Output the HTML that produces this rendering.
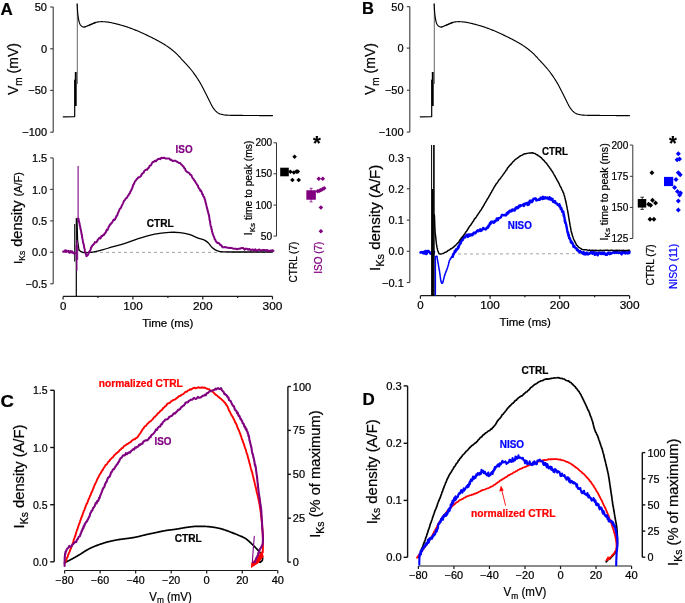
<!DOCTYPE html>
<html><head><meta charset="utf-8"><title>IKs figure</title>
<style>html,body{margin:0;padding:0;background:#fff;}svg{display:block;}text{font-family:'Liberation Sans', Arial, sans-serif;stroke:#000;stroke-width:0.22px;}</style>
</head><body>
<svg width="685" height="603" viewBox="0 0 685 603">
<rect width="685" height="603" fill="#fff"/>
<text x="0.5" y="14.9" font-size="17" font-weight="bold" >A</text>
<text x="362" y="13.6" font-size="16.5" font-weight="bold" >B</text>
<line x1="53.2" y1="7" x2="53.2" y2="132.2" stroke="#3a3a3a" stroke-width="1.1" />
<line x1="50.2" y1="7" x2="53.2" y2="7" stroke="#3a3a3a" stroke-width="1.1" />
<text x="47" y="10.9" font-size="11" text-anchor="end" >50</text>
<line x1="50.2" y1="48.8" x2="53.2" y2="48.8" stroke="#3a3a3a" stroke-width="1.1" />
<text x="47" y="52.7" font-size="11" text-anchor="end" >0</text>
<line x1="50.2" y1="90.4" x2="53.2" y2="90.4" stroke="#3a3a3a" stroke-width="1.1" />
<text x="47" y="94.3" font-size="11" text-anchor="end" >&#8722;50</text>
<line x1="50.2" y1="132.2" x2="53.2" y2="132.2" stroke="#3a3a3a" stroke-width="1.1" />
<text x="47" y="136.1" font-size="11" text-anchor="end" >&#8722;100</text>
<line x1="409.8" y1="6.7" x2="409.8" y2="132.1" stroke="#3a3a3a" stroke-width="1.1" />
<line x1="406.8" y1="6.7" x2="409.8" y2="6.7" stroke="#3a3a3a" stroke-width="1.1" />
<text x="403.6" y="10.6" font-size="11" text-anchor="end" >50</text>
<line x1="406.8" y1="48.1" x2="409.8" y2="48.1" stroke="#3a3a3a" stroke-width="1.1" />
<text x="403.6" y="52" font-size="11" text-anchor="end" >0</text>
<line x1="406.8" y1="90.2" x2="409.8" y2="90.2" stroke="#3a3a3a" stroke-width="1.1" />
<text x="403.6" y="94.1" font-size="11" text-anchor="end" >&#8722;50</text>
<line x1="406.8" y1="132.1" x2="409.8" y2="132.1" stroke="#3a3a3a" stroke-width="1.1" />
<text x="403.6" y="136" font-size="11" text-anchor="end" >&#8722;100</text>
<path d="M63.3 116.9L74.7 116.6 74.7 80" fill="none" stroke="#000" stroke-width="1.2" stroke-linejoin="round" stroke-linecap="round" />
<rect x="74.8" y="72" width="1.9" height="34" fill="#000"/>
<line x1="77.3" y1="4" x2="77.3" y2="84" stroke="#555" stroke-width="0.9" />
<path d="M77.1 3.8C77.23 5.65 77.52 11.72 77.9 14.9C78.28 18.08 78.8 21.02 79.4 22.9C80 24.78 80.75 25.5 81.5 26.2C82.25 26.9 83.07 27.08 83.9 27.1C84.73 27.12 85.5 26.67 86.5 26.3C87.5 25.93 88.35 25.55 89.9 24.9C91.45 24.25 94.82 22.82 95.8 22.4" fill="none" stroke="#000" stroke-width="1.15" stroke-linejoin="round" stroke-linecap="round" />
<path d="M89.9 24.9L90.64 24.57 91.29 24.28 91.95 23.98 92.62 23.69 93.27 23.42 93.93 23.15 94.57 22.9 95.21 22.67 95.83 22.46 96.44 22.28 97.05 22.13 97.64 22.01 98.23 21.91 98.82 21.83 99.4 21.77 99.99 21.73 100.58 21.7 101.17 21.68 101.78 21.67 102.39 21.68 103.01 21.7 103.63 21.72 104.25 21.76 104.86 21.8 105.44 21.85 106.02 21.91 106.58 21.97 107.14 22.03 107.71 22.11 108.3 22.19 108.93 22.29 109.58 22.41 110.27 22.53 110.97 22.67 111.68 22.81 112.37 22.96 113.04 23.11 113.67 23.25 114.28 23.39 114.87 23.53 115.46 23.67 116.05 23.82 116.65 23.96 117.26 24.12 117.87 24.27 118.49 24.43 119.11 24.6 119.74 24.76 120.36 24.93 120.97 25.1 121.58 25.28 122.19 25.45 122.79 25.63 123.38 25.8 123.97 25.98 124.56 26.17 125.14 26.35 125.72 26.54 126.3 26.73 126.88 26.92 127.46 27.12 128.04 27.32 128.62 27.52 129.2 27.72 129.78 27.93 130.36 28.14 130.94 28.35 131.52 28.56 132.1 28.78 132.68 29 133.25 29.22 133.83 29.45 134.41 29.67 134.98 29.9 135.54 30.13 136.1 30.35 136.66 30.59 137.22 30.82 137.78 31.05 138.34 31.29 138.89 31.53 139.45 31.78 140.01 32.02 140.57 32.27 141.12 32.52 141.68 32.77 142.24 33.02 142.8 33.28 143.35 33.54 143.91 33.79 144.47 34.05 145.03 34.31 145.59 34.58 146.15 34.84 146.71 35.11 147.27 35.37 147.83 35.64 148.4 35.92 148.97 36.19 149.54 36.47 150.11 36.75 150.69 37.03 151.26 37.31 151.84 37.6 152.41 37.88 152.98 38.17 153.54 38.46 154.11 38.74 154.66 39.03 155.22 39.31 155.76 39.6 156.3 39.88 156.84 40.17 157.37 40.45 157.91 40.74 158.45 41.03 158.99 41.33 159.54 41.63 160.08 41.93 160.62 42.24 161.16 42.54 161.69 42.84 162.21 43.14 162.73 43.45 163.24 43.75 163.74 44.05 164.24 44.36 164.74 44.67 165.24 44.98 165.73 45.29 166.22 45.62 166.72 45.94 167.21 46.28 167.7 46.62 168.2 46.97 168.69 47.32 169.19 47.68 169.68 48.05 170.18 48.42 170.67 48.79 171.16 49.17 171.65 49.55 172.13 49.94 172.61 50.32 173.08 50.71 173.55 51.1 174.01 51.48 174.46 51.87 174.91 52.26 175.36 52.66 175.8 53.06 176.25 53.48 176.71 53.92 177.17 54.37 177.63 54.83 178.09 55.31 178.54 55.79 178.99 56.27 179.42 56.75 179.84 57.22 180.26 57.68 180.67 58.15 181.09 58.62 181.52 59.11 181.98 59.61 182.46 60.13 182.97 60.67 183.48 61.22 184 61.76 184.52 62.31 185.03 62.84 185.53 63.37 186 63.87 186.47 64.37 186.92 64.85 187.36 65.33 187.81 65.82 188.24 66.3 188.68 66.79 189.11 67.29 189.54 67.78 189.96 68.27 190.36 68.76 190.76 69.25 191.15 69.74 191.54 70.24 191.93 70.73 192.31 71.24 192.7 71.75 193.08 72.26 193.47 72.78 193.85 73.3 194.23 73.83 194.6 74.35 194.97 74.87 195.34 75.39 195.7 75.9 196.05 76.42 196.4 76.93 196.75 77.45 197.1 77.97 197.45 78.49 197.8 79.03 198.15 79.57 198.5 80.12 198.84 80.67 199.18 81.23 199.52 81.79 199.85 82.34 200.17 82.89 200.48 83.44 200.79 83.98 201.09 84.53 201.4 85.09 201.7 85.65 202 86.22 202.3 86.79 202.6 87.36 202.9 87.93 203.2 88.5 203.49 89.06 203.78 89.63 204.07 90.18 204.36 90.74 204.64 91.31 204.94 91.88 205.23 92.46 205.53 93.04 205.83 93.64 206.13 94.23 206.43 94.82 206.72 95.41 207.01 95.99 207.29 96.56 207.57 97.12 207.85 97.68 208.12 98.23 208.39 98.77 208.66 99.33 208.94 99.88 209.22 100.45 209.49 101.02 209.77 101.59 210.05 102.16 210.32 102.71 210.58 103.26 210.85 103.79 211.12 104.31 211.4 104.84 211.69 105.37 211.99 105.91 212.31 106.46 212.65 107.02 213 107.57 213.36 108.12 213.74 108.65 214.13 109.17 214.52 109.68 214.93 110.17 215.36 110.64 215.8 111.1 216.25 111.55 216.72 111.97 217.21 112.37 217.72 112.74 218.25 113.07 218.8 113.37 219.36 113.63 219.93 113.86 220.52 114.06 221.12 114.24 221.74 114.4 222.35 114.54 222.97 114.67 223.6 114.78 224.24 114.89 224.89 114.98 225.58 115.07 226.32 115.14 227.12 115.19 227.97 115.24 228.87 115.27 229.78 115.29 230.67 115.31 231.52 115.32 232.31 115.34 233.04 115.35 233.7 115.36 234.32 115.36 234.92 115.37 235.51 115.38 236.11 115.38 236.72 115.39 237.34 115.4 237.97 115.4 238.62 115.41 239.27 115.42 239.92 115.42 240.59 115.43 241.26 115.43 241.93 115.44 242.61 115.44 243.29 115.45 243.97 115.46 244.65 115.46 245.33 115.47 246 115.47 246.68 115.48 247.35 115.48 248.01 115.49 248.67 115.49 249.31 115.49 249.95 115.5 250.58 115.5 251.21 115.51 251.84 115.51 252.48 115.52 253.13 115.52 253.78 115.52 254.45 115.53 255.13 115.53 255.82 115.53 256.51 115.54 257.21 115.54 257.92 115.54 258.62 115.55 259.33 115.55 260.04 115.55 260.74 115.56 261.44 115.56 262.14 115.56 262.82 115.56 263.5 115.57 264.18 115.57 264.84 115.57 265.48 115.57 266.12 115.58 266.74 115.58 267.35 115.58 267.96 115.58 268.58 115.59 269.22 115.59 269.88 115.59 270.56 115.59 271.28 115.6 272.04 115.6 272.5 115.6" fill="none" stroke="#000" stroke-width="1.15" stroke-linejoin="round" stroke-linecap="round" />
<path d="M420.3 116.9L431.7 116.6 431.7 80" fill="none" stroke="#000" stroke-width="1.2" stroke-linejoin="round" stroke-linecap="round" />
<rect x="431.8" y="72" width="1.9" height="34" fill="#000"/>
<line x1="434.3" y1="4" x2="434.3" y2="84" stroke="#555" stroke-width="0.9" />
<path d="M434.1 3.8C434.23 5.65 434.52 11.72 434.9 14.9C435.28 18.08 435.8 21.02 436.4 22.9C437 24.78 437.75 25.5 438.5 26.2C439.25 26.9 440.07 27.08 440.9 27.1C441.73 27.12 442.5 26.67 443.5 26.3C444.5 25.93 445.35 25.55 446.9 24.9C448.45 24.25 451.82 22.82 452.8 22.4" fill="none" stroke="#000" stroke-width="1.15" stroke-linejoin="round" stroke-linecap="round" />
<path d="M446.9 24.9L447.64 24.57 448.29 24.28 448.95 23.98 449.62 23.69 450.27 23.42 450.93 23.15 451.57 22.9 452.21 22.67 452.83 22.46 453.44 22.28 454.05 22.13 454.64 22.01 455.23 21.91 455.82 21.83 456.4 21.77 456.99 21.73 457.58 21.7 458.17 21.68 458.78 21.67 459.39 21.68 460.01 21.7 460.63 21.72 461.25 21.76 461.86 21.8 462.44 21.85 463.02 21.91 463.58 21.97 464.14 22.03 464.71 22.11 465.3 22.19 465.93 22.29 466.58 22.41 467.27 22.53 467.97 22.67 468.68 22.81 469.37 22.96 470.04 23.11 470.67 23.25 471.28 23.39 471.87 23.53 472.46 23.67 473.05 23.82 473.65 23.96 474.26 24.12 474.87 24.27 475.49 24.43 476.11 24.6 476.74 24.76 477.36 24.93 477.97 25.1 478.58 25.28 479.19 25.45 479.79 25.63 480.38 25.8 480.97 25.98 481.56 26.17 482.14 26.35 482.72 26.54 483.3 26.73 483.88 26.92 484.46 27.12 485.04 27.32 485.62 27.52 486.2 27.72 486.78 27.93 487.36 28.14 487.94 28.35 488.52 28.56 489.1 28.78 489.68 29 490.25 29.22 490.83 29.45 491.41 29.67 491.98 29.9 492.54 30.13 493.1 30.35 493.66 30.59 494.22 30.82 494.78 31.05 495.34 31.29 495.89 31.53 496.45 31.78 497.01 32.02 497.57 32.27 498.12 32.52 498.68 32.77 499.24 33.02 499.8 33.28 500.35 33.54 500.91 33.79 501.47 34.05 502.03 34.31 502.59 34.58 503.15 34.84 503.71 35.11 504.27 35.37 504.83 35.64 505.4 35.92 505.97 36.19 506.54 36.47 507.11 36.75 507.69 37.03 508.26 37.31 508.84 37.6 509.41 37.88 509.98 38.17 510.54 38.46 511.11 38.74 511.66 39.03 512.22 39.31 512.76 39.6 513.3 39.88 513.84 40.17 514.37 40.45 514.91 40.74 515.45 41.03 515.99 41.33 516.54 41.63 517.08 41.93 517.62 42.24 518.16 42.54 518.69 42.84 519.21 43.14 519.73 43.45 520.24 43.75 520.74 44.05 521.24 44.36 521.74 44.67 522.24 44.98 522.73 45.29 523.22 45.62 523.72 45.94 524.21 46.28 524.7 46.62 525.2 46.97 525.69 47.32 526.19 47.68 526.68 48.05 527.18 48.42 527.67 48.79 528.16 49.17 528.65 49.55 529.13 49.94 529.61 50.32 530.08 50.71 530.55 51.1 531.01 51.48 531.46 51.87 531.91 52.26 532.36 52.66 532.8 53.06 533.25 53.48 533.71 53.92 534.17 54.37 534.63 54.83 535.09 55.31 535.54 55.79 535.99 56.27 536.42 56.75 536.84 57.22 537.26 57.68 537.67 58.15 538.09 58.62 538.52 59.11 538.98 59.61 539.46 60.13 539.97 60.67 540.48 61.22 541 61.76 541.52 62.31 542.03 62.84 542.53 63.37 543 63.87 543.47 64.37 543.92 64.85 544.36 65.33 544.81 65.82 545.24 66.3 545.68 66.79 546.11 67.29 546.54 67.78 546.96 68.27 547.36 68.76 547.76 69.25 548.15 69.74 548.54 70.24 548.93 70.73 549.31 71.24 549.7 71.75 550.08 72.26 550.47 72.78 550.85 73.3 551.23 73.83 551.6 74.35 551.97 74.87 552.34 75.39 552.7 75.9 553.05 76.42 553.4 76.93 553.75 77.45 554.1 77.97 554.45 78.49 554.8 79.03 555.15 79.57 555.5 80.12 555.84 80.67 556.18 81.23 556.52 81.79 556.85 82.34 557.17 82.89 557.48 83.44 557.79 83.98 558.09 84.53 558.4 85.09 558.7 85.65 559 86.22 559.3 86.79 559.6 87.36 559.9 87.93 560.2 88.5 560.49 89.06 560.78 89.63 561.07 90.18 561.36 90.74 561.64 91.31 561.94 91.88 562.23 92.46 562.53 93.04 562.83 93.64 563.13 94.23 563.43 94.82 563.72 95.41 564.01 95.99 564.29 96.56 564.57 97.12 564.85 97.68 565.12 98.23 565.39 98.77 565.66 99.33 565.94 99.88 566.22 100.45 566.49 101.02 566.77 101.59 567.05 102.16 567.32 102.71 567.58 103.26 567.85 103.79 568.12 104.31 568.4 104.84 568.69 105.37 568.99 105.91 569.31 106.46 569.65 107.02 570 107.57 570.36 108.12 570.74 108.65 571.13 109.17 571.52 109.68 571.93 110.17 572.36 110.64 572.8 111.1 573.25 111.55 573.72 111.97 574.21 112.37 574.72 112.74 575.25 113.07 575.8 113.37 576.36 113.63 576.93 113.86 577.52 114.06 578.12 114.24 578.74 114.4 579.35 114.54 579.97 114.67 580.6 114.78 581.24 114.89 581.89 114.98 582.58 115.07 583.32 115.14 584.12 115.19 584.97 115.24 585.87 115.27 586.78 115.29 587.67 115.31 588.52 115.32 589.31 115.34 590.04 115.35 590.7 115.36 591.32 115.36 591.92 115.37 592.51 115.38 593.11 115.38 593.72 115.39 594.34 115.4 594.97 115.4 595.62 115.41 596.27 115.42 596.92 115.42 597.59 115.43 598.26 115.43 598.93 115.44 599.61 115.44 600.29 115.45 600.97 115.46 601.65 115.46 602.33 115.47 603 115.47 603.68 115.48 604.35 115.48 605.01 115.49 605.67 115.49 606.31 115.49 606.95 115.5 607.58 115.5 608.21 115.51 608.84 115.51 609.48 115.52 610.13 115.52 610.78 115.52 611.45 115.53 612.13 115.53 612.82 115.53 613.51 115.54 614.21 115.54 614.92 115.54 615.62 115.55 616.33 115.55 617.04 115.55 617.74 115.56 618.44 115.56 619.14 115.56 619.82 115.56 620.5 115.57 621.18 115.57 621.84 115.57 622.48 115.57 623.12 115.58 623.74 115.58 624.35 115.58 624.96 115.58 625.58 115.59 626.22 115.59 626.88 115.59 627.56 115.59 628.28 115.6 629.04 115.6 629.5 115.6" fill="none" stroke="#000" stroke-width="1.15" stroke-linejoin="round" stroke-linecap="round" />
<text transform="translate(17.9 95) rotate(-90)" font-size="14">V<tspan font-size="10" dy="4">m</tspan><tspan dy="-4"> (mV)</tspan></text>
<text transform="translate(374.9 95) rotate(-90)" font-size="14">V<tspan font-size="10" dy="4">m</tspan><tspan dy="-4"> (mV)</tspan></text>
<line x1="53.2" y1="157.9" x2="53.2" y2="283.8" stroke="#3a3a3a" stroke-width="1.1" />
<line x1="50.2" y1="157.9" x2="53.2" y2="157.9" stroke="#3a3a3a" stroke-width="1.1" />
<text x="47.2" y="162" font-size="11" text-anchor="end" >1.5</text>
<line x1="50.2" y1="189.4" x2="53.2" y2="189.4" stroke="#3a3a3a" stroke-width="1.1" />
<text x="47.2" y="193.5" font-size="11" text-anchor="end" >1.0</text>
<line x1="50.2" y1="220.9" x2="53.2" y2="220.9" stroke="#3a3a3a" stroke-width="1.1" />
<text x="47.2" y="225" font-size="11" text-anchor="end" >0.5</text>
<line x1="50.2" y1="252.3" x2="53.2" y2="252.3" stroke="#3a3a3a" stroke-width="1.1" />
<text x="47.2" y="256.4" font-size="11" text-anchor="end" >0.0</text>
<line x1="50.2" y1="283.8" x2="53.2" y2="283.8" stroke="#3a3a3a" stroke-width="1.1" />
<text x="47.2" y="287.9" font-size="11" text-anchor="end" >&#8722;0.5</text>
<line x1="63.1" y1="296.4" x2="272.5" y2="296.4" stroke="#1a1a1a" stroke-width="1.2" />
<line x1="63.1" y1="296.4" x2="63.1" y2="299.4" stroke="#1a1a1a" stroke-width="1.2" />
<text x="63.1" y="309.6" font-size="11.5" text-anchor="middle" >0</text>
<line x1="132.9" y1="296.4" x2="132.9" y2="299.4" stroke="#1a1a1a" stroke-width="1.2" />
<text x="132.9" y="309.6" font-size="11.5" text-anchor="middle" textLength="19.5" lengthAdjust="spacingAndGlyphs" >100</text>
<line x1="202.8" y1="296.4" x2="202.8" y2="299.4" stroke="#1a1a1a" stroke-width="1.2" />
<text x="202.8" y="309.6" font-size="11.5" text-anchor="middle" textLength="19.8" lengthAdjust="spacingAndGlyphs" >200</text>
<line x1="272.5" y1="296.4" x2="272.5" y2="299.4" stroke="#1a1a1a" stroke-width="1.2" />
<text x="272.5" y="309.6" font-size="11.5" text-anchor="middle" textLength="19.8" lengthAdjust="spacingAndGlyphs" >300</text>
<line x1="98" y1="296.4" x2="98" y2="298" stroke="#1a1a1a" stroke-width="1.2" />
<line x1="167.9" y1="296.4" x2="167.9" y2="298" stroke="#1a1a1a" stroke-width="1.2" />
<line x1="237.7" y1="296.4" x2="237.7" y2="298" stroke="#1a1a1a" stroke-width="1.2" />
<text x="167.8" y="326.6" font-size="11.5" text-anchor="middle" >Time (ms)</text>
<text transform="translate(22.1 264) rotate(-90)" font-size="11.6">I<tspan font-size="8.5" dy="3">Ks</tspan><tspan dy="-3" font-size="14.6"> density </tspan><tspan font-size="11">(A/F)</tspan></text>
<line x1="88" y1="252.4" x2="272.5" y2="252.4" stroke="#999" stroke-width="0.9" stroke-dasharray="3 3"/>
<path d="M79 250C79.42 250.3 80.52 251.35 81.5 251.8C82.48 252.25 83.37 252.62 84.9 252.7C86.43 252.78 89.17 252.43 90.7 252.3C92.23 252.17 92.02 252.33 94.1 251.9C96.18 251.47 100.17 250.53 103.2 249.7C106.23 248.87 108.67 247.97 112.3 246.9C115.93 245.83 120.98 244.57 125 243.3C129.02 242.03 131.45 240.82 136.4 239.3C141.35 237.78 149.23 235.35 154.7 234.2C160.17 233.05 164.98 232.67 169.2 232.4C173.42 232.13 176.53 232.22 180 232.6C183.47 232.98 187.08 233.83 190 234.7C192.92 235.57 195.02 236.87 197.5 237.8C199.98 238.73 203.03 239.37 204.9 240.3C206.77 241.23 207.45 242.15 208.7 243.4C209.95 244.65 210.95 246.55 212.4 247.8C213.85 249.05 215.53 250.22 217.4 250.9C219.27 251.58 219.83 251.72 223.6 251.9C227.37 252.08 231.85 251.98 240 252C248.15 252.02 267.08 252 272.5 252" fill="none" stroke="#000" stroke-width="1.3" stroke-linejoin="round" stroke-linecap="round" />
<line x1="74.7" y1="224" x2="74.7" y2="261.6" stroke="#000" stroke-width="1.0" />
<line x1="76.3" y1="218.3" x2="76.3" y2="296" stroke="#000" stroke-width="1.2" />
<path d="M77 218.3L77.6 240 79 250" fill="none" stroke="#000" stroke-width="1.2" stroke-linejoin="round" stroke-linecap="round" />
<path d="M63.3 251.58L64.4 251.49 65.17 250.42 66 251.81 66.58 250.79 67.21 251.34 67.87 251.5 68.56 251.08 69.27 252.53 70 252.43 70.59 251.3 71.26 252.34 71.95 251.42 72.65 252.3 73.32 253.11 73.92 253.25 74.42 253.1 74.8 253.38" fill="none" stroke="#800080" stroke-width="2.3" stroke-linejoin="round" stroke-linecap="round" />
<line x1="78.1" y1="166" x2="78.1" y2="222" stroke="#800080" stroke-width="1.1" />
<line x1="76.8" y1="240" x2="76.8" y2="270.7" stroke="#800080" stroke-width="1.3" />
<rect x="75.6" y="245" width="2.6" height="15" fill="#800080" opacity="0.8"/>
<path d="M78.4 218.46L78.61 220.02 78.79 220.98 78.99 220.93 79.21 222.6 79.45 223.14 79.7 224.53 79.97 226.35 80.24 226.81 80.52 229.18 80.8 229.55 81.08 231.08 81.35 232.46 81.62 234.64 81.88 234.7 82.12 237.29 82.37 238.56 82.62 239.46 82.87 241.07 83.13 242.64 83.38 243.22 83.64 244.28 83.89 245.25 84.15 247.34 84.4 248.46 84.65 249.04 84.89 250.69 85.13 251.61 85.36 251.98 85.7 253.29 86.46 256.12 87.84 255.05 88.6 253.6 89.08 251.7 89.58 251.96 90.09 250.28 90.62 249.59 91.16 247.26 91.72 246.78 92.3 245.53 93.13 244.91 93.99 243.98 94.89 242.13 95.82 242.52 96.8 241.68 97.68 240 98.63 238.89 99.6 237.78 100.56 238.46 101.48 235.94 102.3 236.27 103.23 234.79 104.02 234.93 104.77 233.36 105.56 232.83 106.27 230.86 106.83 229.63 107.4 230.1 107.99 228.85 108.59 226.94 109.21 226.31 109.84 224.55 110.5 224.55 111.26 223.18 112.08 222.59 112.93 220.88 113.79 219.61 114.6 219.93 115.35 218.69 116 217.25 116.65 215.67 117.15 215.64 117.56 214.25 117.97 213.11 118.43 212.14 118.98 210.82 119.6 209.22 120.27 208.6 120.94 207.77 121.59 206.23 122.16 204.9 122.72 203.87 123.1 203.1 123.46 202.2 124.2 200.49 124.74 200.15 125.39 199.19 126.12 198.2 126.9 197.87 127.7 196.06 128.49 195.21 129.23 193.78 129.9 193.15 130.49 191.23 131.04 190.81 131.55 189.36 132.05 188.69 132.54 187.41 133.04 184.99 133.55 184.64 134.1 183.54 134.87 181.49 135.66 180.81 136.48 179.54 137.3 178.74 138.15 177.56 139 177.29 139.88 176.83 140.8 176.26 141.73 174.27 142.66 173.29 143.55 172.91 144.4 170.8 145.36 170.06 146.28 169.6 147.15 169.77 147.99 168.21 148.8 167.83 149.61 165.83 150.32 165.44 151.04 165.25 151.84 163.26 152.75 162.05 153.76 161.94 154.84 160.66 155.95 161.33 157 159.93 158.09 158.91 159.25 158.68 160.35 159.17 161.4 157.65 162.64 157.98 163.98 157.66 165.4 158.44 166.62 158.4 167.93 158.62 169.21 158.4 170.42 159.91 171.5 159.84 172.63 161.1 173.87 160.71 175.16 160.71 176.53 161.51 177.88 162.22 179.03 163.03 180.06 163.02 181.05 164.18 182 165.04 182.9 166.09 183.66 166.74 184.36 168.33 185.04 168.61 185.71 170.72 186.4 171.27 187.4 172.17 188.4 172.41 189.4 173.32 190.24 174.65 190.89 174.64 191.54 175.53 192.22 177.51 192.98 178.5 193.68 179.14 194.3 180.56 194.95 180.87 195.64 182.62 196.35 183.4 197.05 184.75 197.74 185.26 198.39 187.37 199.05 188.38 199.73 189.24 200.39 191.01 201.04 190.59 201.66 192.04 202.26 194.29 202.83 194.18 203.32 196.37 203.73 196.71 204.13 197.08 204.5 198.15 204.86 199.66 205.2 200.14 205.54 202.57 205.87 203.09 206.2 204.53 206.53 206.05 206.84 207.29 207.15 208.67 207.46 209.52 207.75 211.17 208.03 211.93 208.31 212.87 208.57 214.24 208.83 214.53 209.07 216.04 209.29 217.19 209.5 219.37 209.7 220.4 209.91 220.58 210.13 222.15 210.37 224.06 210.63 225.69 210.89 226.53 211.17 226.64 211.45 229.09 211.74 229.28 212.05 231.7 212.36 232.2 212.67 233.67 213 234.44 213.52 235.92 214.05 236.74 214.61 238.89 215.19 239.73 215.79 240.98 216.53 242.1 217.43 242.94 218.36 242.95 219.37 243.58 220.39 245.28 221.4 245.31 222.47 247.3 223.6 247.14 224.8 247.01 225.92 247.18 227.06 247.69 228.27 247.72 229.57 247.89 231 247.85 232.11 248.14 233.28 248.71 234.52 248.82 235.79 248.67 237.11 249.21 238.45 248.67 239.8 248.72 240.94 248.21 242.11 247.95 243.3 248.04 244.52 249.6 245.74 248.63 246.97 248.75 248.19 249.75 249.4 248.92 250.62 250.29 251.84 249.69 253.02 249.41 254.2 250.44 255.39 249.31 256.62 250.96 257.91 250.05 259.28 249.46 260.55 250.5 261.77 250.14 263.1 250.02 264.5 250.05 265.94 250.55 267.38 249.97 268.77 251.29 270.08 250.5 271.28 250.64 272.32 250.19 273.16 250.48 273.5 250.97" fill="none" stroke="#800080" stroke-width="2.0" stroke-linejoin="round" stroke-linecap="round" />
<text x="175.6" y="152.9" font-size="10.5" font-weight="bold" fill="#800080" style="stroke:#800080" textLength="17" lengthAdjust="spacingAndGlyphs" >ISO</text>
<text x="146.8" y="227.4" font-size="10" font-weight="bold" textLength="27" lengthAdjust="spacingAndGlyphs" >CTRL</text>
<line x1="276.5" y1="142.8" x2="276.5" y2="236.1" stroke="#333" stroke-width="1" />
<line x1="273.5" y1="142.8" x2="276.5" y2="142.8" stroke="#333" stroke-width="1" />
<text x="272.2" y="146.3" font-size="10.5" text-anchor="end" textLength="16.8" lengthAdjust="spacingAndGlyphs" >200</text>
<line x1="273.5" y1="173.8" x2="276.5" y2="173.8" stroke="#333" stroke-width="1" />
<text x="272.2" y="177.3" font-size="10.5" text-anchor="end" textLength="16.8" lengthAdjust="spacingAndGlyphs" >150</text>
<line x1="273.5" y1="205.1" x2="276.5" y2="205.1" stroke="#333" stroke-width="1" />
<text x="272.2" y="208.6" font-size="10.5" text-anchor="end" textLength="16.8" lengthAdjust="spacingAndGlyphs" >100</text>
<line x1="273.5" y1="236.1" x2="276.5" y2="236.1" stroke="#333" stroke-width="1" />
<text x="272.2" y="239.6" font-size="10.5" text-anchor="end" textLength="11.4" lengthAdjust="spacingAndGlyphs" >50</text>
<text transform="translate(252.2 235.2) rotate(-90)" font-size="10.3">I<tspan font-size="8" dy="2.6">Ks</tspan><tspan dy="-2.6"> time to peak (ms)</tspan></text>
<text x="313" y="150.2" font-size="20" font-weight="bold" >*</text>
<rect x="280.2" y="167.7" width="8.6" height="8.6" fill="#000"/>
<path d="M294.6 154.4L296.9 156.7L294.6 159L292.3 156.7Z" fill="#000"/>
<path d="M290.4 169.5L292.7 171.8L290.4 174.1L288.1 171.8Z" fill="#000"/>
<path d="M293.9 170.2L296.2 172.5L293.9 174.8L291.6 172.5Z" fill="#000"/>
<path d="M296.4 169.3L298.7 171.6L296.4 173.9L294.1 171.6Z" fill="#000"/>
<path d="M297.8 169.3L300.1 171.6L297.8 173.9L295.5 171.6Z" fill="#000"/>
<path d="M292.4 177.7L294.7 180L292.4 182.3L290.1 180Z" fill="#000"/>
<path d="M298.7 177.7L301 180L298.7 182.3L296.4 180Z" fill="#000"/>
<line x1="309.6" y1="188.3" x2="312.6" y2="188.3" stroke="#800080" stroke-width="0.8" />
<line x1="311.1" y1="188.3" x2="311.1" y2="201.9" stroke="#800080" stroke-width="0.8" />
<line x1="309.6" y1="201.9" x2="312.6" y2="201.9" stroke="#800080" stroke-width="0.8" />
<rect x="306.35" y="190.25" width="9.5" height="9.5" fill="#800080"/>
<path d="M318.8 176.5L321.1 178.8L318.8 181.1L316.5 178.8Z" fill="#800080"/>
<path d="M322.8 176.5L325.1 178.8L322.8 181.1L320.5 178.8Z" fill="#800080"/>
<path d="M317.6 189L319.9 191.3L317.6 193.6L315.3 191.3Z" fill="#800080"/>
<path d="M319.5 188.4L321.8 190.7L319.5 193L317.2 190.7Z" fill="#800080"/>
<path d="M320.9 187.7L323.2 190L320.9 192.3L318.6 190Z" fill="#800080"/>
<path d="M322.5 186.9L324.8 189.2L322.5 191.5L320.2 189.2Z" fill="#800080"/>
<path d="M324.2 186L326.5 188.3L324.2 190.6L321.9 188.3Z" fill="#800080"/>
<path d="M320.9 205.2L323.2 207.5L320.9 209.8L318.6 207.5Z" fill="#800080"/>
<path d="M320.9 228.9L323.2 231.2L320.9 233.5L318.6 231.2Z" fill="#800080"/>
<text transform="translate(296.6 282.4) rotate(-90)" font-size="10" >CTRL (7)</text>
<text transform="translate(322 273.8) rotate(-90)" font-size="10" fill="#800080" style="stroke:#800080" >ISO (7)</text>
<line x1="409.8" y1="157.6" x2="409.8" y2="282.5" stroke="#3a3a3a" stroke-width="1.1" />
<line x1="406.8" y1="157.6" x2="409.8" y2="157.6" stroke="#3a3a3a" stroke-width="1.1" />
<text x="403.8" y="161.6" font-size="11" text-anchor="end" >0.3</text>
<line x1="406.8" y1="188.8" x2="409.8" y2="188.8" stroke="#3a3a3a" stroke-width="1.1" />
<text x="403.8" y="192.8" font-size="11" text-anchor="end" >0.2</text>
<line x1="406.8" y1="220.1" x2="409.8" y2="220.1" stroke="#3a3a3a" stroke-width="1.1" />
<text x="403.8" y="224.1" font-size="11" text-anchor="end" >0.1</text>
<line x1="406.8" y1="251.3" x2="409.8" y2="251.3" stroke="#3a3a3a" stroke-width="1.1" />
<text x="403.8" y="255.3" font-size="11" text-anchor="end" >0.0</text>
<line x1="406.8" y1="282.5" x2="409.8" y2="282.5" stroke="#3a3a3a" stroke-width="1.1" />
<text x="403.8" y="286.5" font-size="11" text-anchor="end" >&#8722;0.1</text>
<line x1="420.4" y1="295.7" x2="629.6" y2="295.7" stroke="#1a1a1a" stroke-width="1.2" />
<line x1="420.4" y1="295.7" x2="420.4" y2="298.7" stroke="#1a1a1a" stroke-width="1.2" />
<text x="420.4" y="309.1" font-size="11.5" text-anchor="middle" >0</text>
<line x1="490.1" y1="295.7" x2="490.1" y2="298.7" stroke="#1a1a1a" stroke-width="1.2" />
<text x="490.1" y="309.1" font-size="11.5" text-anchor="middle" textLength="19.5" lengthAdjust="spacingAndGlyphs" >100</text>
<line x1="559.7" y1="295.7" x2="559.7" y2="298.7" stroke="#1a1a1a" stroke-width="1.2" />
<text x="559.7" y="309.1" font-size="11.5" text-anchor="middle" textLength="19.8" lengthAdjust="spacingAndGlyphs" >200</text>
<line x1="629.6" y1="295.7" x2="629.6" y2="298.7" stroke="#1a1a1a" stroke-width="1.2" />
<text x="629.6" y="309.1" font-size="11.5" text-anchor="middle" textLength="19.8" lengthAdjust="spacingAndGlyphs" >300</text>
<line x1="455.2" y1="295.7" x2="455.2" y2="297.3" stroke="#1a1a1a" stroke-width="1.2" />
<line x1="524.9" y1="295.7" x2="524.9" y2="297.3" stroke="#1a1a1a" stroke-width="1.2" />
<line x1="594.6" y1="295.7" x2="594.6" y2="297.3" stroke="#1a1a1a" stroke-width="1.2" />
<text x="525.2" y="326.2" font-size="11.5" text-anchor="middle" >Time (ms)</text>
<text transform="translate(380 271) rotate(-90)" font-size="15">I<tspan font-size="11" dy="3.5">Ks</tspan><tspan dy="-3.5"> density (A/F)</tspan></text>
<line x1="452" y1="254" x2="629.6" y2="253.6" stroke="#999" stroke-width="0.9" stroke-dasharray="3 3"/>
<path d="M420.5 252.39L421.38 252.13 421.96 252.55 422.61 252.35 423.31 253.28 424.05 251.75 424.81 253.41 425.56 250.98 426.3 253.96 427 252.87 427.64 250.96 428.34 251.12 429.06 251.72 429.8 252.44 430.54 253.66 431.26 253.02 431.95 253.1 432.58 251.88 433.15 254.18 433.62 253.26 434 251.73" fill="none" stroke="#0000ff" stroke-width="2.6" stroke-linejoin="round" stroke-linecap="round" />
<line x1="431.6" y1="145" x2="431.6" y2="296" stroke="#000" stroke-width="1.0" />
<line x1="433.9" y1="145" x2="433.9" y2="296" stroke="#000" stroke-width="1.6" />
<line x1="432.7" y1="189" x2="432.7" y2="296" stroke="#000" stroke-width="1.6" />
<line x1="435.4" y1="256.5" x2="435.4" y2="295.5" stroke="#0000ff" stroke-width="1.4" />
<path d="M435.4 256.5L436.9 256.4" fill="none" stroke="#0000ff" stroke-width="1.4" stroke-linejoin="round" stroke-linecap="round" />
<path d="M436.9 256.25L437.02 256.88 437.17 257.8 437.35 259.45 437.45 259.48 437.55 259.97 437.66 260.56 437.77 261.28 437.89 261.96 438 262.61 438.12 263.65 438.24 263.73 438.36 264.52 438.48 265.14 438.61 266.39 438.73 267.04 438.85 267.55 438.96 268.02 439.08 269.04 439.19 269.83 439.3 269.64 439.41 270.45 439.51 271.16 439.62 272.1 439.72 273.09 439.83 273.21 439.93 274.33 440.04 275.12 440.14 275.35 440.25 276.88 440.35 277.58 440.46 277.53 440.57 279.03 440.67 279.68 440.78 280.23 440.89 280.11 441 281.57 441.11 281.75 441.22 281.9 441.45 282.76 441.68 283.25 442.17 283.26 442.56 282.59 442.76 282.66 442.96 281.43 443.17 281.37 443.37 280.04 443.58 279.64 443.78 278.83 443.99 277.51 444.19 277.17 444.4 275.94 444.6 275.8 444.8 274.97 445.02 274.08 445.24 274 445.46 272.9 445.69 272.26 445.91 271.98 446.14 271.08 446.36 271.09 446.58 269.83 446.8 269.96 447.02 269.13 447.22 268.09 447.42 268.02 447.62 267.38 447.8 266.76 448.02 265.73 448.21 265.27 448.39 264.98 448.56 264.33 448.72 263.2 448.88 262.32 449.04 262.5 449.21 261.3 449.39 260.75 449.58 260.32 449.8 260.06 450.09 259.55 450.41 258.3 450.74 258.69 451.09 257.96 451.45 256.86 451.8 257.16 452.15 256.18 452.48 256.1 452.8 255.01 453.21 254.99 453.62 254.37 454.04 253.64 454.43 253.27 454.78 252.51 455.08 252.26 455.3 251.17" fill="none" stroke="#0000ff" stroke-width="1.5" stroke-linejoin="round" stroke-linecap="round" />
<path d="M452.8 256.86L453.02 254.49 453.31 254.9 453.66 253.53 454.05 253.47 454.41 252.72 454.78 250.89 455.14 251.42 455.51 251.73 455.87 249.36 456.24 250.44 456.6 250.1 456.97 249.22 457.33 248.82 457.7 249.02 458.06 246.79 458.41 247.83 458.77 246.61 459.11 245.43 459.45 244.97 459.77 244.28 460.08 243.15 460.38 242.72 460.66 243.65 460.93 241.81 461.19 240.95 461.45 241.25 461.7 239.37 461.95 240.6 462.21 239.05 462.48 240.29 462.76 239.88 463.08 239.21 463.42 237.01 463.79 237.36 464.21 237.66 464.66 237.57 465.14 237.46 465.67 235.76 466.22 235.97 466.79 234.75 467.38 234.87 467.98 236.97 468.58 234.36 469.18 234.37 469.77 235.86 470.36 234.43 470.94 234.53 471.5 235.28 472.07 235.21 472.62 233.73 473.18 234.58 473.74 232.75 474.29 232.66 474.86 232.88 475.42 233.26 476 232.14 476.58 231.56 477.17 230.75 477.76 230.37 478.35 231.33 478.96 230.93 479.56 230.4 480.17 229.21 480.77 230.95 481.38 230.74 481.99 229.92 482.6 228.99 483.21 227.91 483.8 228.99 484.38 229.14 484.94 228.96 485.48 229.56 485.99 228.98 486.48 228 486.94 228.32 487.37 227 487.78 226.58 488.18 227.58 488.56 225.53 488.95 226.15 489.33 225.03 489.73 223.72 490.14 222.9 490.57 224.08 491.02 221.88 491.49 221.62 491.99 222.27 492.5 221.8 493.02 221.74 493.56 222.78 494.11 222.56 494.66 220.94 495.2 221.65 495.74 220.84 496.27 220.37 496.8 218.41 497.31 219.94 497.83 220.21 498.33 218.13 498.84 218.53 499.34 218.26 499.85 217.87 500.36 217.76 500.87 217.21 501.38 216.18 501.9 214.92 502.42 215.13 502.94 214.98 503.47 215.27 504.01 214.91 504.55 214.98 505.09 215.51 505.65 214.91 506.21 215.17 506.77 212.98 507.34 214.04 507.91 212.26 508.48 213.09 509.05 211.4 509.62 210.65 510.18 211.2 510.74 211.58 511.29 210.32 511.84 210.99 512.39 209.37 512.93 210.34 513.47 210.23 514.01 209.64 514.54 210.6 515.07 209.86 515.6 207.82 516.13 208.5 516.66 207.12 517.2 207.27 517.74 208.2 518.28 207.81 518.83 206.01 519.38 205.52 519.95 206.48 520.51 205.22 521.09 205.59 521.66 205.61 522.24 205.29 522.82 205.32 523.4 204.13 523.98 205.9 524.55 203.78 525.11 204.31 525.66 203.68 526.21 203.06 526.75 204.38 527.28 203.21 527.8 204.99 528.31 202.49 528.81 204.55 529.32 203.41 529.81 200.73 530.31 202.21 530.81 201.9 531.32 200.55 531.84 202.09 532.36 201.54 532.89 200.64 533.44 198.83 533.99 199.1 534.56 198.39 535.14 198.56 535.73 198.38 536.32 200.41 536.92 199.79 537.53 200 538.14 199.98 538.75 199.18 539.37 199.89 539.99 199.55 540.61 197.74 541.24 198.48 541.87 197.5 542.49 199.04 543.12 196.85 543.74 198.89 544.37 197.37 544.98 198.2 545.59 197.38 546.19 198.39 546.78 198.32 547.35 197.52 547.92 198.13 548.47 199.07 549 197.88 549.52 197.23 550.04 199.56 550.54 197.8 551.03 198.69 551.52 199.6 552.01 199.99 552.49 198.91 552.98 201.91 553.47 201.87 553.97 201.56 554.47 202.57 554.98 201.08 555.49 202.29 556 203.28 556.51 203.43 557.02 203.64 557.51 204.89 557.99 204.81 558.46 205.25 558.9 205.77 559.32 204.27 559.72 206.87 560.1 205.62 560.45 207.88 560.77 208.85 561.08 208.69 561.37 208.1 561.63 209.33 561.89 210.88 562.12 210.57 562.35 211.97 562.56 211.85 562.76 211.55 562.95 211.3 563.13 211.97 563.3 211.76 563.46 213.07 563.62 215.1 563.77 215.96 563.92 214.47 564.06 215.43 564.21 216.88 564.35 217.24 564.49 218.48 564.64 218.24 564.78 220.99 564.93 221.69 565.07 220.4 565.22 222.62 565.36 222.22 565.51 223.39 565.66 222.74 565.8 223.82 565.95 224.02 566.1 224.21 566.25 225.34 566.4 226 566.55 227.11 566.69 227.36 566.84 227.87 566.99 229.07 567.14 230.27 567.29 231.06 567.45 230.79 567.6 232.25 567.75 233.08 567.9 233.02 568.05 232.3 568.21 234.53 568.37 235.62 568.53 234.43 568.7 236.3 568.87 234.93 569.05 237.11 569.23 238.39 569.42 238.39 569.61 237.83 569.8 238.13 570 239.39 570.21 239.25 570.42 240.22 570.64 240.42 570.87 242.49 571.11 242.68 571.36 241.48 571.62 242.28 571.9 242.08 572.19 242.71 572.49 243.21 572.8 244.23 573.13 244.39 573.47 246.72 573.81 246.06 574.17 246.7 574.54 246.3 574.92 247.58 575.31 247.88 575.71 248.18 576.13 248.48 576.57 248.28 577.03 250.15 577.51 250.5 578.01 249.89 578.53 251.5 579.06 251.07 579.61 252.41 580.18 251.19 580.75 251.84 581.32 252.26 581.89 252.35 582.46 253.42 583.02 253.78 583.57 251.97 584.12 254.23 584.66 253.03 585.21 254.17 585.76 254.41 586.33 252.78 586.91 252.59 587.51 253.69 588.13 254.43 588.75 253.41 589.39 253.78 590.03 253.31 590.67 252.15 591.3 252.12 591.92 252.85 592.53 253.68 593.12 252.02 593.71 252.63 594.28 252.47 594.86 254.86 595.44 252.63 596.02 254.29 596.6 252.65 597.2 254.4 597.81 255.24 598.43 254.24 599.06 252.45 599.69 252.57 600.33 252.68 600.98 254.12 601.63 253.24 602.29 252.44 602.95 254.12 603.61 253.47 604.28 252.44 604.94 253.81 605.61 254.71 606.27 254.13 606.93 254.84 607.58 253.22 608.24 252.56 608.89 253.62 609.53 254.19 610.17 252.65 610.82 253.76 611.47 252.94 612.12 253.17 612.77 252.85 613.43 252.21 614.1 252.18 614.78 252.88 615.46 252.13 616.14 252.27 616.83 252.69 617.53 252.12 618.22 252.9 618.91 253.08 619.6 252.26 620.28 252.86 620.95 253.5 621.62 254.37 622.27 251.55 622.91 253.02 623.54 252.87 624.15 251.5 624.74 250.96 625.31 253.52 625.86 252.15 626.38 252.93 626.9 252.54 627.4 253.33 627.87 253.46 628.31 252.45 628.73 251.81 629.39 252.89 629.5 251.67" fill="none" stroke="#0000ff" stroke-width="2.4" stroke-linejoin="round" stroke-linecap="round" />
<path d="M434.4 215.11L434.44 216.13 434.48 217.33 434.52 218.32 434.56 219.43 434.61 220.87 434.66 222.1 434.72 223.62 434.77 224.92 434.83 226.7 434.89 227.9 434.94 228.89 435 229.77 435.05 230.77 435.17 232.54 435.29 233.89 435.42 234.81 435.55 235.83 435.67 236.62 435.8 237.84 435.94 239.19 436.09 240.96 436.23 242.2 436.37 243.44 436.52 244.45 436.72 245.61 436.97 247.4 437.23 248.29 437.5 249.43 437.9 250.94 438.34 252.06 439 253.71 440.2 253.89 441.18 253.97 442.4 253.63 443.77 253.19 444.98 252.37 446.01 252.26 447.11 251.41 448.24 250.4 449.38 250.06 450.5 249.02 451.53 248.48 452.57 247.9 453.62 247.14 454.66 246.09 455.66 245.18 456.6 244.15 457.48 243.16 458.3 242.56 459.08 241.35 459.85 240.05 460.62 239.13 461.4 238 462.13 237.14 462.83 236.58 463.54 235.32 464.26 234.62 465 233.44 465.79 232.02 466.51 231.33 467.14 230.28 467.8 229.29 468.48 228.1 469.17 227.03 469.87 225.82 470.58 225.33 471.27 224.07 471.96 223.21 472.66 221.84 473.36 221.25 474.07 219.77 474.77 218.77 475.48 218.01 476.18 217.28 476.88 215.85 477.59 214.95 478.3 213.83 478.94 212.84 479.58 212.17 480.23 210.77 480.88 210.25 481.52 209.17 482.17 207.93 482.81 207.07 483.45 205.99 484.09 204.94 484.71 203.5 485.33 202.61 485.95 201.53 486.57 200.61 487.18 199.27 487.79 198.44 488.39 197.64 489 196.41 489.6 195.28 490.2 194.39 490.83 193.02 491.45 192.32 492.07 190.69 492.69 190.05 493.3 188.77 493.92 187.46 494.54 186.68 495.17 185.63 495.8 184.54 496.52 183.57 497.26 182.68 497.99 181.66 498.74 180.35 499.48 179.5 500.23 178.79 500.97 177.5 501.7 176.63 502.43 175.64 503.15 174.6 503.88 173.62 504.6 172.48 505.32 171.6 506.05 170.41 506.77 169.64 507.5 168.1 508.28 167.28 509.07 166.18 509.86 165.16 510.65 164.72 511.44 163.5 512.22 162.91 513.01 161.62 513.89 161.01 514.86 159.88 515.82 159.08 516.79 158.62 517.75 157.8 518.72 157.08 519.78 156.26 520.97 155.61 522.17 155.08 523.34 154.27 524.46 153.86 525.73 153.83 527.09 153.39 528.39 153.12 529.7 152.9 531.05 152.94 532.39 152.8 533.73 153.23 534.98 153.51 536.13 154.43 537.27 154.67 538.42 155.87 539.47 156.18 540.4 157.12 541.34 157.79 542.29 159.01 543.23 159.94 544.09 160.67 544.88 161.74 545.66 162.59 546.44 163.15 547.23 164.49 548.01 165.45 548.74 166.36 549.41 167.31 550.08 168.44 550.76 169.09 551.43 170.37 552.1 171.21 552.77 172.2 553.41 173.51 554.02 174.64 554.64 175.37 555.25 176.71 555.86 177.9 556.47 178.92 557.08 180.24 557.7 180.92 558.26 182.28 558.85 183.16 559.44 184.48 560.03 185.84 560.62 187.01 561.18 187.72 561.7 189.21 562.18 190.25 562.68 191.09 563.17 192.55 563.58 193.02 563.94 194.4 564.3 195.63 564.68 196.67 564.9 197.72 565.14 198.5 565.39 199.78 565.65 201.04 565.91 202.03 566.18 203.32 566.45 204.7 566.71 205.9 566.97 207.01 567.22 208.63 567.46 209.93 567.69 210.79 567.92 212.26 568.15 213.53 568.36 214.63 568.57 216.11 568.76 217.4 568.95 218.3 569.14 219.56 569.32 220.65 569.51 221.91 569.7 223.24 569.92 224.46 570.16 225.75 570.39 226.84 570.62 227.88 570.86 229.46 571.1 230.92 571.36 231.63 571.65 233.12 571.98 233.87 572.36 235.57 572.76 236.56 573.17 237.83 573.61 238.99 574.07 240.11 574.55 240.85 575.12 242.3 575.74 243.17 576.39 244.74 577.09 245.47 577.88 246.34 578.8 247.26 579.7 247.93 580.63 248.42 581.63 249.17 582.77 249.53 584.11 249.82 585.7 249.82 586.6 249.85 587.5 250.15 588.42 250.5 589.39 250.03 590.4 250.4 591.49 250.37 592.67 250.3 593.97 250.46 595.38 250.29 596.95 250.47 597.79 250.4 598.67 250.57 599.6 250.49 600.54 250.24 601.58 250.46 602.7 250.41 603.9 250.6 605.16 250.32 606.48 250.16 607.85 250.22 609.25 250.64 610.68 250.2 612.13 250.2 613.59 250.58 615.05 250.55 616.51 250.17 617.94 250.48 619.34 250.24 620.71 250.61 622.03 250.51 623.29 250.29 624.49 250.66 625.62 250.58 626.66 250.4 627.6 250.56 628.45 250.21 629.5 250.15" fill="none" stroke="#000" stroke-width="1.5" stroke-linejoin="round" stroke-linecap="round" />
<text x="542" y="154.5" font-size="10" font-weight="bold" textLength="25.9" lengthAdjust="spacingAndGlyphs" >CTRL</text>
<text x="507.8" y="228.9" font-size="10" font-weight="bold" fill="#0000ff" style="stroke:#0000ff" textLength="24" lengthAdjust="spacingAndGlyphs" >NISO</text>
<line x1="632.8" y1="145.1" x2="632.8" y2="238.5" stroke="#333" stroke-width="1" />
<line x1="629.8" y1="145.1" x2="632.8" y2="145.1" stroke="#333" stroke-width="1" />
<text x="628.3" y="148.6" font-size="10.5" text-anchor="end" textLength="16.8" lengthAdjust="spacingAndGlyphs" >200</text>
<line x1="629.8" y1="176.3" x2="632.8" y2="176.3" stroke="#333" stroke-width="1" />
<text x="628.3" y="179.8" font-size="10.5" text-anchor="end" textLength="16.8" lengthAdjust="spacingAndGlyphs" >175</text>
<line x1="629.8" y1="207.4" x2="632.8" y2="207.4" stroke="#333" stroke-width="1" />
<text x="628.3" y="210.9" font-size="10.5" text-anchor="end" textLength="16.8" lengthAdjust="spacingAndGlyphs" >150</text>
<line x1="629.8" y1="238.5" x2="632.8" y2="238.5" stroke="#333" stroke-width="1" />
<text x="628.3" y="242" font-size="10.5" text-anchor="end" textLength="16.8" lengthAdjust="spacingAndGlyphs" >125</text>
<text transform="translate(607.8 240.4) rotate(-90)" font-size="10.6">I<tspan font-size="8" dy="2.6">Ks</tspan><tspan dy="-2.6"> time to peak (ms)</tspan></text>
<text x="668.9" y="149.6" font-size="20" font-weight="bold" >*</text>
<line x1="640.4" y1="197.2" x2="644" y2="197.2" stroke="#000" stroke-width="0.8" />
<line x1="642.2" y1="197.2" x2="642.2" y2="209.4" stroke="#000" stroke-width="0.8" />
<line x1="640.4" y1="209.4" x2="644" y2="209.4" stroke="#000" stroke-width="0.8" />
<rect x="637.75" y="199.05" width="8.5" height="8.5" fill="#000"/>
<path d="M651.9 170.35L654.35 172.8L651.9 175.25L649.45 172.8Z" fill="#000"/>
<path d="M648.6 201.85L651.05 204.3L648.6 206.75L646.15 204.3Z" fill="#000"/>
<path d="M650.6 202.75L653.05 205.2L650.6 207.65L648.15 205.2Z" fill="#000"/>
<path d="M652.5 197.75L654.95 200.2L652.5 202.65L650.05 200.2Z" fill="#000"/>
<path d="M655.6 200.55L658.05 203L655.6 205.45L653.15 203Z" fill="#000"/>
<path d="M650 216.85L652.45 219.3L650 221.75L647.55 219.3Z" fill="#000"/>
<path d="M653.9 216.85L656.35 219.3L653.9 221.75L651.45 219.3Z" fill="#000"/>
<rect x="664" y="176.9" width="9.2" height="9.2" fill="#0000ff"/>
<path d="M678.3 151.2L680.8 153.7L678.3 156.2L675.8 153.7Z" fill="#0000ff"/>
<path d="M677.1 157.2L679.6 159.7L677.1 162.2L674.6 159.7Z" fill="#0000ff"/>
<path d="M679.5 156.6L682 159.1L679.5 161.6L677 159.1Z" fill="#0000ff"/>
<path d="M678.3 170.3L680.8 172.8L678.3 175.3L675.8 172.8Z" fill="#0000ff"/>
<path d="M680.2 172.3L682.7 174.8L680.2 177.3L677.7 174.8Z" fill="#0000ff"/>
<path d="M676 177.1L678.5 179.6L676 182.1L673.5 179.6Z" fill="#0000ff"/>
<path d="M674.6 185L677.1 187.5L674.6 190L672.1 187.5Z" fill="#0000ff"/>
<path d="M677.5 189L680 191.5L677.5 194L675 191.5Z" fill="#0000ff"/>
<path d="M680.5 190.5L683 193L680.5 195.5L678 193Z" fill="#0000ff"/>
<path d="M679.6 192.4L682.1 194.9L679.6 197.4L677.1 194.9Z" fill="#0000ff"/>
<path d="M678.3 198.4L680.8 200.9L678.3 203.4L675.8 200.9Z" fill="#0000ff"/>
<path d="M678.3 207.4L680.8 209.9L678.3 212.4L675.8 209.9Z" fill="#0000ff"/>
<text transform="translate(654 285.5) rotate(-90)" font-size="10.1" >CTRL (7)</text>
<text transform="translate(677.1 289) rotate(-90)" font-size="10.2" fill="#0000ff" style="stroke:#0000ff" >NISO (11)</text>
<text x="0.6" y="406.5" font-size="16.8" font-weight="bold" textLength="13.4" lengthAdjust="spacingAndGlyphs" >C</text>
<line x1="54.2" y1="390.3" x2="54.2" y2="561.8" stroke="#111" stroke-width="1.4" />
<line x1="50.2" y1="390.3" x2="54.2" y2="390.3" stroke="#111" stroke-width="1.4" />
<text x="47.6" y="394.4" font-size="10" text-anchor="end" textLength="14.6" lengthAdjust="spacingAndGlyphs" >1.5</text>
<line x1="50.2" y1="447.5" x2="54.2" y2="447.5" stroke="#111" stroke-width="1.4" />
<text x="47.6" y="451.6" font-size="10" text-anchor="end" textLength="14.6" lengthAdjust="spacingAndGlyphs" >1.0</text>
<line x1="50.2" y1="504.7" x2="54.2" y2="504.7" stroke="#111" stroke-width="1.4" />
<text x="47.6" y="508.8" font-size="10" text-anchor="end" textLength="14.6" lengthAdjust="spacingAndGlyphs" >0.5</text>
<line x1="50.2" y1="561.8" x2="54.2" y2="561.8" stroke="#111" stroke-width="1.4" />
<text x="47.6" y="565.9" font-size="10" text-anchor="end" textLength="14.6" lengthAdjust="spacingAndGlyphs" >0.0</text>
<line x1="64.6" y1="570.5" x2="277.78" y2="570.5" stroke="#1a1a1a" stroke-width="1.2" />
<line x1="64.6" y1="570.5" x2="64.6" y2="573.5" stroke="#1a1a1a" stroke-width="1.2" />
<text x="64.6" y="584.4" font-size="10" text-anchor="middle" textLength="18" lengthAdjust="spacingAndGlyphs" >&#8722;80</text>
<line x1="100.13" y1="570.5" x2="100.13" y2="573.5" stroke="#1a1a1a" stroke-width="1.2" />
<text x="100.13" y="584.4" font-size="10" text-anchor="middle" textLength="18" lengthAdjust="spacingAndGlyphs" >&#8722;60</text>
<line x1="135.66" y1="570.5" x2="135.66" y2="573.5" stroke="#1a1a1a" stroke-width="1.2" />
<text x="135.66" y="584.4" font-size="10" text-anchor="middle" textLength="18" lengthAdjust="spacingAndGlyphs" >&#8722;40</text>
<line x1="171.19" y1="570.5" x2="171.19" y2="573.5" stroke="#1a1a1a" stroke-width="1.2" />
<text x="171.19" y="584.4" font-size="10" text-anchor="middle" textLength="18" lengthAdjust="spacingAndGlyphs" >&#8722;20</text>
<line x1="206.72" y1="570.5" x2="206.72" y2="573.5" stroke="#1a1a1a" stroke-width="1.2" />
<text x="206.72" y="584.4" font-size="10" text-anchor="middle" textLength="6.2" lengthAdjust="spacingAndGlyphs" >0</text>
<line x1="242.25" y1="570.5" x2="242.25" y2="573.5" stroke="#1a1a1a" stroke-width="1.2" />
<text x="242.25" y="584.4" font-size="10" text-anchor="middle" textLength="12.2" lengthAdjust="spacingAndGlyphs" >20</text>
<line x1="277.78" y1="570.5" x2="277.78" y2="573.5" stroke="#1a1a1a" stroke-width="1.2" />
<text x="277.78" y="584.4" font-size="10" text-anchor="middle" textLength="12.2" lengthAdjust="spacingAndGlyphs" >40</text>
<text x="149.3" y="600.6" font-size="12.6" textLength="42.4" lengthAdjust="spacingAndGlyphs">V<tspan font-size="9.2" dy="2.5">m</tspan><tspan dy="-2.5"> (mV)</tspan></text>
<text transform="translate(24.4 528.4) rotate(-90)" font-size="14.7">I<tspan font-size="10.5" dy="3.5">Ks</tspan><tspan dy="-3.5"> density (A/F)</tspan></text>
<line x1="287.9" y1="386.5" x2="287.9" y2="562.1" stroke="#111" stroke-width="1.4" />
<line x1="287.9" y1="386.5" x2="290.9" y2="386.5" stroke="#111" stroke-width="1.4" />
<text x="292.8" y="390.5" font-size="10" textLength="18.3" lengthAdjust="spacingAndGlyphs" >100</text>
<line x1="287.9" y1="430.4" x2="290.9" y2="430.4" stroke="#111" stroke-width="1.4" />
<text x="292.8" y="434.4" font-size="10" textLength="12.2" lengthAdjust="spacingAndGlyphs" >75</text>
<line x1="287.9" y1="474.3" x2="290.9" y2="474.3" stroke="#111" stroke-width="1.4" />
<text x="292.8" y="478.3" font-size="10" textLength="12.2" lengthAdjust="spacingAndGlyphs" >50</text>
<line x1="287.9" y1="518.2" x2="290.9" y2="518.2" stroke="#111" stroke-width="1.4" />
<text x="292.8" y="522.2" font-size="10" textLength="12.2" lengthAdjust="spacingAndGlyphs" >25</text>
<line x1="287.9" y1="562.1" x2="290.9" y2="562.1" stroke="#111" stroke-width="1.4" />
<text x="292.8" y="566.1" font-size="10" textLength="6.1" lengthAdjust="spacingAndGlyphs" >0</text>
<text transform="translate(320.2 537.8) rotate(-90)" font-size="14.7">I<tspan font-size="10.5" dy="3.5">Ks</tspan><tspan dy="-3.5"> (% of maximum)</tspan></text>
<path d="M64.6 562.7L65.36 562.33 66.03 562 66.65 561.7 67.28 561.39 67.9 561.08 68.52 560.77 69.12 560.46 69.71 560.16 70.31 559.85 70.89 559.55 71.46 559.25 72.02 558.95 72.57 558.66 73.11 558.36 73.66 558.06 74.19 557.77 74.73 557.47 75.27 557.16 75.81 556.86 76.35 556.55 76.89 556.23 77.44 555.92 77.98 555.6 78.52 555.28 79.06 554.96 79.6 554.63 80.13 554.31 80.65 553.98 81.18 553.66 81.69 553.33 82.21 553 82.73 552.66 83.25 552.33 83.77 552 84.29 551.66 84.81 551.33 85.33 551 85.86 550.67 86.39 550.35 86.92 550.03 87.45 549.72 87.99 549.42 88.53 549.12 89.08 548.83 89.63 548.54 90.18 548.26 90.74 547.99 91.31 547.73 91.87 547.47 92.44 547.21 93.01 546.97 93.59 546.73 94.17 546.49 94.75 546.26 95.33 546.03 95.91 545.8 96.5 545.58 97.08 545.36 97.66 545.15 98.25 544.94 98.83 544.73 99.41 544.52 99.99 544.32 100.57 544.12 101.15 543.92 101.74 543.72 102.32 543.53 102.91 543.34 103.49 543.16 104.08 542.97 104.67 542.79 105.26 542.61 105.86 542.44 106.45 542.27 107.05 542.1 107.65 541.93 108.26 541.77 108.87 541.62 109.49 541.46 110.12 541.31 110.75 541.16 111.38 541.02 112.02 540.88 112.66 540.74 113.29 540.61 113.93 540.48 114.56 540.35 115.2 540.23 115.84 540.11 116.49 539.99 117.13 539.88 117.78 539.77 118.44 539.66 119.1 539.56 119.76 539.46 120.42 539.36 121.09 539.27 121.75 539.18 122.41 539.1 123.07 539.02 123.73 538.94 124.39 538.86 125.05 538.78 125.7 538.7 126.35 538.61 127 538.53 127.64 538.45 128.28 538.36 128.91 538.28 129.55 538.19 130.18 538.1 130.8 538.01 131.43 537.91 132.06 537.82 132.68 537.71 133.31 537.61 133.93 537.5 134.55 537.38 135.17 537.27 135.78 537.14 136.38 537.01 136.99 536.88 137.59 536.74 138.2 536.6 138.8 536.46 139.4 536.31 140 536.16 140.59 536.01 141.19 535.86 141.79 535.71 142.4 535.55 143 535.4 143.6 535.25 144.2 535.11 144.8 534.96 145.4 534.82 146.01 534.68 146.61 534.54 147.22 534.4 147.82 534.27 148.43 534.14 149.03 534 149.64 533.87 150.25 533.74 150.85 533.62 151.46 533.49 152.07 533.36 152.67 533.23 153.28 533.1 153.88 532.98 154.49 532.85 155.09 532.72 155.7 532.6 156.3 532.47 156.9 532.34 157.5 532.21 158.1 532.08 158.7 531.95 159.31 531.82 159.91 531.69 160.51 531.57 161.1 531.44 161.7 531.32 162.3 531.2 162.9 531.08 163.5 530.96 164.1 530.85 164.7 530.74 165.3 530.63 165.9 530.53 166.5 530.44 167.1 530.35 167.7 530.26 168.3 530.18 168.9 530.1 169.5 530.02 170.1 529.94 170.7 529.87 171.3 529.8 171.9 529.73 172.5 529.65 173.1 529.58 173.7 529.5 174.3 529.43 174.9 529.34 175.51 529.26 176.11 529.17 176.72 529.08 177.32 528.98 177.93 528.88 178.54 528.77 179.15 528.67 179.76 528.56 180.37 528.45 180.97 528.34 181.58 528.23 182.18 528.12 182.79 528.01 183.39 527.9 183.99 527.8 184.59 527.7 185.2 527.6 185.81 527.5 186.42 527.41 187.04 527.31 187.67 527.22 188.29 527.14 188.92 527.05 189.55 526.97 190.18 526.9 190.8 526.82 191.42 526.75 192.04 526.69 192.65 526.63 193.26 526.57 193.87 526.52 194.48 526.47 195.1 526.43 195.71 526.39 196.32 526.36 196.94 526.33 197.56 526.31 198.17 526.3 198.79 526.29 199.41 526.28 200.03 526.28 200.64 526.29 201.25 526.3 201.86 526.31 202.47 526.33 203.07 526.35 203.67 526.37 204.28 526.39 204.88 526.42 205.48 526.45 206.09 526.49 206.7 526.52 207.31 526.57 207.93 526.61 208.55 526.67 209.17 526.72 209.78 526.78 210.4 526.85 211 526.92 211.61 526.99 212.21 527.07 212.8 527.15 213.4 527.23 213.99 527.32 214.58 527.41 215.17 527.51 215.77 527.61 216.37 527.72 216.97 527.84 217.57 527.96 218.18 528.08 218.79 528.22 219.4 528.36 220.01 528.51 220.62 528.67 221.23 528.83 221.83 529.01 222.44 529.19 223.05 529.37 223.66 529.57 224.27 529.77 224.88 529.97 225.49 530.19 226.1 530.4 226.71 530.62 227.32 530.85 227.93 531.07 228.53 531.29 229.13 531.52 229.72 531.74 230.3 531.97 230.89 532.19 231.47 532.42 232.06 532.65 232.65 532.88 233.25 533.11 233.85 533.35 234.45 533.59 235.05 533.83 235.65 534.08 236.24 534.32 236.82 534.56 237.4 534.8 237.97 535.03 238.54 535.27 239.1 535.49 239.67 535.72 240.23 535.95 240.8 536.18 241.37 536.41 241.94 536.65 242.5 536.9 243.06 537.16 243.61 537.43 244.15 537.71 244.67 538.02 245.19 538.33 245.69 538.67 246.19 539.01 246.68 539.38 247.16 539.76 247.64 540.15 248.12 540.55 248.6 540.96 249.08 541.38 249.55 541.81 250.03 542.25 250.51 542.7 250.98 543.14 251.45 543.59 251.92 544.04 252.38 544.49 252.84 544.94 253.3 545.38 253.75 545.83 254.19 546.27 254.64 546.71 255.07 547.14 255.51 547.58 255.94 548.03 256.36 548.47 256.78 548.92 257.2 549.38 257.62 549.84 258.03 550.31 258.43 550.78 258.83 551.27 259.23 551.76 259.61 552.26 260 552.76 260.37 553.28 260.74 553.81 261.1 554.36 261.44 554.91 261.75 555.48 262.04 556.06 262.28 556.65 262.46 557.24 262.59 557.83 262.63 558.41 262.6 558.97 262.48 559.51 262.33 560.04 262.11 560.55 261.8 561.03 261.38 561.47 260.84 561.84 260.23 562.09 259.59 562.19 259.4 562.2" fill="none" stroke="#000" stroke-width="1.7" stroke-linejoin="round" stroke-linecap="round" />
<path d="M64.6 563.41L65.01 562.99 65.35 561.59 65.73 561.31 66.16 560.26 66.62 558.55 67.1 557.68 67.61 557 68.13 554.75 68.66 553.84 69.18 552.46 69.71 551.78 70.21 549.75 70.7 548.82 71.17 547.9 71.6 546.1 72.02 545.73 72.43 544.31 72.84 543.05 73.23 542.03 73.62 540.25 74.01 539.1 74.39 538.05 74.76 536.94 75.14 536.21 75.51 535.19 75.88 533.84 76.26 532.08 76.64 531.31 77.02 529.72 77.4 529.42 77.82 527.99 78.23 526.49 78.65 525.54 79.07 523.88 79.5 523.29 79.92 522.08 80.34 520.23 80.76 519.92 81.17 517.98 81.59 517.36 82 516 82.4 515.21 82.8 513.72 83.2 512.94 83.66 511.2 84.1 510.69 84.51 509.88 84.92 508.14 85.32 507.87 85.73 505.91 86.15 505.16 86.59 503.87 87.05 503.57 87.56 502.12 88.11 500.39 88.59 499.33 89 498.51 89.43 497.54 89.88 496.33 90.35 495.52 90.83 494.36 91.32 492.59 91.82 492.03 92.33 490.97 92.84 489.39 93.35 488.44 93.86 486.81 94.37 485.58 94.88 484.47 95.37 483.47 95.85 482.63 96.33 481.65 96.78 480.47 97.34 478.97 98 478.2 98.65 476.54 99.27 475.35 99.89 474.07 100.5 473.5 101.1 472.56 101.7 471.06 102.29 470.34 102.89 469.87 103.49 468.2 104.1 467.58 104.87 466.44 105.63 464.91 106.38 464.66 107.12 463.86 107.88 462.42 108.64 461.33 109.43 461.03 110.25 459.57 111.1 458.87 111.9 457.79 112.73 457.47 113.58 456.15 114.45 455.04 115.34 454.51 116.23 453.17 117.13 452.91 118.03 451.94 118.92 451.36 119.8 449.92 120.77 449.54 121.75 448.16 122.73 448.11 123.71 446.38 124.69 445.61 125.67 445.35 126.65 444.21 127.63 444.14 128.6 443.08 129.64 442.54 130.69 441.99 131.75 440.83 132.8 439.92 133.84 439.21 134.87 439.36 135.87 438.08 136.83 437.8 137.71 436.81 138.48 435.8 139.22 434.5 139.93 433.81 140.62 432.77 141.31 431.39 142.01 430.67 142.74 428.97 143.5 428.66 144.3 426.93 145.12 426.11 145.97 425.92 146.86 424.36 147.78 423.58 148.7 422.58 149.62 421.58 150.54 421.39 151.43 420.39 152.28 419.59 153.1 418.78 154.06 417.12 154.98 416.92 155.86 415.73 156.71 415.08 157.55 413.61 158.39 413.02 159.24 412.41 160.1 411.12 160.97 410.72 161.83 410.09 162.69 408.89 163.54 407.65 164.41 407.28 165.29 406.17 166.18 405.76 167.1 404.07 168.08 403.38 169.05 403.02 170.02 402.73 171.02 401.43 172.06 400.83 173.17 400.1 174.36 399.57 175.43 399.41 176.35 398.22 177.34 397.88 178.36 396.64 179.42 395.94 180.5 395.77 181.59 394.64 182.66 394.36 183.72 393.78 184.73 392.52 185.7 391.73 186.6 391.95 187.87 390.57 189.05 390.18 190.16 389.27 191.22 389.56 192.26 388.72 193.29 388.12 194.35 387.72 195.54 388.33 196.85 387.82 198.17 387.27 199.48 387.72 200.77 387.75 202.02 387.29 203.2 387.88 204.5 387.5 205.73 388.15 206.9 388.6 208.05 389.26 209.21 389.28 210.3 390.45 211.28 390.75 212.25 391.54 213.22 392.03 214.22 393.25 215.27 394.43 216.4 395.12 217.24 395.53 218.15 396.83 219.1 397.11 220.08 398.28 221.06 398.8 222.03 399.8 222.96 400.77 223.84 401.44 224.64 402.63 225.4 403.06 226.12 404.86 226.76 405.24 227.33 406.33 227.86 407.31 228.37 408.65 228.88 410.31 229.42 411.11 229.99 411.81 230.57 413.54 231.14 414.27 231.71 415.59 232.29 416.21 232.86 417.27 233.43 418.41 234.01 419.87 234.55 420.39 235.04 422.22 235.53 422.72 236.03 423.57 236.53 424.65 237.02 426.22 237.52 427.34 238.02 428.79 238.51 429.67 239 430.54 239.43 431.73 239.86 433.24 240.29 433.89 240.73 435.34 241.17 436.42 241.6 438.06 242.02 439.45 242.43 439.77 242.84 441.72 243.23 442.72 243.6 443.37 244.03 444.37 244.43 446.16 244.82 447.19 245.19 448.62 245.55 449 245.9 449.94 246.26 451.62 246.62 453.12 247 453.89 247.33 454.71 247.67 456.14 248.01 457.65 248.35 458.6 248.69 459.83 249.03 461.04 249.37 462.73 249.7 463.64 250.03 464.55 250.34 466.11 250.67 467.64 251 468.84 251.33 469.57 251.65 471.24 251.97 471.77 252.28 472.83 252.58 474.34 252.89 475.8 253.2 476.43 253.5 478.39 253.78 479.2 254.06 480.63 254.33 481.17 254.6 482.71 254.87 483.86 255.14 485.18 255.41 486.01 255.7 487.47 255.99 488.15 256.3 489.86 256.54 491.19 256.79 492.37 257.05 493.53 257.32 494.12 257.6 494.91 257.87 496.69 258.15 497.74 258.43 499.05 258.7 500.57 258.96 501.2 259.22 503.12 259.46 503.75 259.69 505.04 259.89 507.16 260.08 507.6 260.26 509.48 260.43 509.95 260.6 511.35 260.77 512.68 260.93 513.59 261.08 515.47 261.23 516.62 261.37 517.54 261.51 519.08 261.64 519.94 261.77 521.06 261.89 522.58 262 523.86 262.1 524.93 262.22 526.4 262.32 527.54 262.42 528.38 262.5 530.27 262.57 531.23 262.64 532.14 262.69 533.68 262.74 534.5 262.78 535.74 262.82 537.18 262.86 538.33 262.89 539.74 262.92 540.67 262.93 541.82 262.94 543.04 262.93 545.35 262.91 546.45 262.89 548.05 262.86 549.26 262.84 549.92 262.82 550.91 262.8 552.5" fill="none" stroke="#ff0000" stroke-width="1.9" stroke-linejoin="round" stroke-linecap="round" />
<path d="M251 568L251.2 563L256 558.5L262 551L263.8 556.5L258 563.5Z" fill="#ff0000"/>
<path d="M64.6 565.87L64.62 564.63 64.64 564.78 64.64 562.48 64.66 561.92 64.67 561.78 64.68 560.08 64.7 559.87 64.72 558.38 64.75 557.15 64.79 557.68 64.88 556.45 65.02 554.9 65.2 553.13 65.41 553.61 65.67 551.38 65.96 551.89 66.63 549.74 67.35 548.55 68.06 547.97 68.7 547 69.29 545.91 70.34 546.91 71.6 546.07 72.44 544.54 73.38 543.92 74.38 542.78 74.88 542.09 75.38 542.23 75.85 541.58 76.3 541.87 76.96 539.61 77.62 539.19 78.26 537.82 78.87 536.73 79.47 536.39 80.03 535.97 80.57 533.67 81.06 533.36 81.5 531.09 81.92 531.23 82.37 529.53 82.9 528.03 83.2 528.83 83.66 526.15 84.16 526.49 84.68 524.1 85.23 523.98 85.8 522.2 86.38 522 86.98 521.2 87.59 519.9 88.15 519.08 88.68 517.58 89.23 516.88 89.8 515.49 90.37 512.98 90.95 512.54 91.53 510.7 92.1 510.75 92.65 509.42 93.19 507.95 93.7 507.47 94.08 507.01 94.75 505.94 95.34 503.95 95.93 502.78 96.58 503.46 97.35 500.89 97.8 501.29 98.3 500.61 98.7 499.84 99.14 497.76 99.6 498 100.09 496.04 100.61 494.73 101.14 493.8 101.68 492.06 102.24 490.65 102.8 489.07 103.37 487.89 103.93 487.6 104.5 486.53 105.05 484.1 105.6 483.32 106.13 482.02 106.64 481.96 107.13 480.07 107.6 478.87 107.95 478.29 108.29 477.34 108.61 477.36 109.24 477.12 109.85 476.09 110.43 474.71 111 472.48 111.56 472.22 112.13 471.2 112.71 469.9 113.31 469.18 113.94 469.28 114.6 468.11 115.29 466.82 116.01 465.8 116.75 464.66 117.5 464.07 118.26 462.23 119.03 461.63 119.81 459.47 120.59 458.19 121.37 457.82 122.15 456.74 122.92 455.53 123.82 455.28 124.85 455.37 125.88 453.16 126.92 454.28 127.96 452.99 129 452.37 130.03 452.61 131.07 451.04 132.1 450.28 133.13 449.1 134.15 449.47 135.17 447.41 136.19 447.67 137.22 446.81 138.24 446.42 139.26 444.61 140.29 444.96 141.32 443.7 142.37 443.78 143.44 441.53 144.51 440.96 145.57 440.26 146.62 440.4 147.65 440.05 148.65 438.87 149.6 437.35 150.49 437.23 151.33 435.24 152.13 434.52 152.91 434.01 153.68 433.48 154.46 432.35 155.28 431.01 156.14 429.36 156.98 429.78 157.76 428.14 158.55 427.14 159.37 426.59 160.2 426.57 161.05 424.23 161.91 424.31 162.77 422.41 163.65 421.46 164.52 420.64 165.4 419.44 166.37 419.58 167.33 419.27 168.3 418.44 169.28 416.85 170.27 416.49 171.28 416.09 172.31 415.44 173.36 413.71 174.45 413.24 175 413.64 175.8 412.4 176.64 411.74 177.51 410.73 178.39 409.64 179.29 409.82 180.2 409.02 181.11 407.31 182.01 406.77 182.9 405.92 183.78 405.48 184.63 404.51 185.44 402.9 186.23 402.27 187.29 402.47 187.96 402.19 188.6 401.05 189.81 400.5 190.96 399.67 192.07 399.82 193.18 398.69 194.31 397.96 195.5 398.91 196.74 398.42 198 396.94 199.26 397.82 200.49 397.55 201.65 396.72 202.71 395.79 203.82 395.77 204.86 394.8 205.75 395.2 206.6 393.32 207.55 393.18 208.65 392.41 209.84 391.09 211.12 391.1 212.41 390.51 213.66 390.07 214.8 389.68 215.5 388.66 216.16 389.5 216.79 388.87 217.99 388.04 219.18 388.98 220.22 388.88 221.04 388.15 221.86 390.15 222.7 391.05 223.57 391.73 224.03 393.16 224.5 394.02 225 393.82 225.63 394.99 226.29 395.08 226.97 395.77 227.68 397.43 228.39 397.35 229.12 400.22 229.85 400.74 230.58 400.84 231.3 402.61 232 404.14 232.64 405.17 233.29 406.14 233.95 406.32 234.61 408.81 235.27 410.21 235.92 410.46 236.56 411.4 237.19 413.5 237.79 412.66 238.36 415.25 238.9 416.26 239.25 415.5 239.9 417.22 240.5 419.12 241.07 419.05 241.6 420.66 242.13 421.08 242.66 423.38 243.21 423.26 243.76 424.1 244.28 426.23 244.8 427.42 245.32 426.92 245.84 429.43 246.37 428.86 246.89 431.09 247.42 431.54 247.68 433.48 247.94 433.17 248.2 434.34 248.47 436.17 248.74 435.57 249.02 436.88 249.3 438.83 249.58 440.82 249.86 440.83 250.14 442.84 250.42 444.05 250.7 444.61 250.98 445.92 251.25 447.22 251.52 447.98 251.78 450.1 252.04 451.99 252.3 453.2 252.54 453.41 252.78 454.48 253.05 455.13 253.34 457.19 253.62 457.64 253.9 459.06 254.17 460.59 254.43 461.73 254.68 463.93 254.93 465.17 255.17 464.49 255.41 466.2 255.64 466.71 255.86 468.24 256.08 470.84 256.3 471.66 256.46 472.95 256.62 474.42 256.77 475.05 256.92 475.74 257.06 477.39 257.2 478.71 257.34 480.05 257.47 481.44 257.6 481.89 257.73 484.34 257.86 484.44 257.99 486.51 258.11 487.51 258.24 488.34 258.37 489.25 258.5 491.61 258.63 491.61 258.79 492.81 258.97 494.14 259.15 495.61 259.33 496.12 259.52 498.51 259.7 498.3 259.89 500.37 260.07 502.04 260.24 502.47 260.41 503.88 260.57 504.67 260.72 506.18 260.87 506.56 261 508.24 261.12 508.76 261.23 509.63 261.33 511.34 261.43 513.18 261.51 514.93 261.59 515.29 261.67 517.14 261.74 518.89 261.81 519.56 261.87 520.13 261.94 521.38 262 522.49 262.07 523.69 262.13 525.33 262.22 527.73 262.31 528.86 262.42 530.04 262.53 530.53 262.64 532.14 262.74 533.22 262.83 534.01 262.91 536.44 262.96 536.81 262.99 537.36 262.98 539.93 262.94 539.63 262.86 542.35 262.7 543.61 262.42 544.68 262.06 545.25 261.63 546.51 261.16 547.46 260.66 547.88 260.14 549.15 259.64 549.57 259.15 552.16 258.7 552.87 258.24 552.99 257.97 554.68 257.69 555.73 257.42 555.9 257.14 557.1 256.87 557.59 256.35 557.84 255.88 559.29 255.46 560.62 255.13 561.55 255 561.96" fill="none" stroke="#800080" stroke-width="2.1" stroke-linejoin="round" stroke-linecap="round" />
<path d="M255 561.5L252.3 562.8 253.2 550 254.3 536.4" fill="none" stroke="#800080" stroke-width="1.1" stroke-linejoin="round" stroke-linecap="round" />
<text x="98.8" y="387.3" font-size="10.2" font-weight="bold" fill="#ff0000" style="stroke:#ff0000" textLength="84" lengthAdjust="spacingAndGlyphs" >normalized CTRL</text>
<text x="154.4" y="445.3" font-size="10" font-weight="bold" fill="#800080" style="stroke:#800080" textLength="17" lengthAdjust="spacingAndGlyphs" >ISO</text>
<text x="174.7" y="542.3" font-size="10" font-weight="bold" textLength="27" lengthAdjust="spacingAndGlyphs" >CTRL</text>
<text x="362.5" y="404.8" font-size="17" font-weight="bold" >D</text>
<line x1="407.6" y1="385.9" x2="407.6" y2="557.3" stroke="#111" stroke-width="1.4" />
<line x1="403.6" y1="385.9" x2="407.6" y2="385.9" stroke="#111" stroke-width="1.4" />
<text x="401.8" y="389.8" font-size="10" text-anchor="end" textLength="15.6" lengthAdjust="spacingAndGlyphs" >0.3</text>
<line x1="403.6" y1="443.3" x2="407.6" y2="443.3" stroke="#111" stroke-width="1.4" />
<text x="401.8" y="447.2" font-size="10" text-anchor="end" textLength="15.6" lengthAdjust="spacingAndGlyphs" >0.2</text>
<line x1="403.6" y1="500.4" x2="407.6" y2="500.4" stroke="#111" stroke-width="1.4" />
<text x="401.8" y="504.3" font-size="10" text-anchor="end" textLength="15.6" lengthAdjust="spacingAndGlyphs" >0.1</text>
<line x1="403.6" y1="557.3" x2="407.6" y2="557.3" stroke="#111" stroke-width="1.4" />
<text x="401.8" y="561.2" font-size="10" text-anchor="end" textLength="15.6" lengthAdjust="spacingAndGlyphs" >0.0</text>
<line x1="418.4" y1="566" x2="631.58" y2="566" stroke="#1a1a1a" stroke-width="1.2" />
<line x1="418.4" y1="566" x2="418.4" y2="569" stroke="#1a1a1a" stroke-width="1.2" />
<text x="418.4" y="579.4" font-size="10" text-anchor="middle" textLength="18.5" lengthAdjust="spacingAndGlyphs" >&#8722;80</text>
<line x1="453.93" y1="566" x2="453.93" y2="569" stroke="#1a1a1a" stroke-width="1.2" />
<text x="453.93" y="579.4" font-size="10" text-anchor="middle" textLength="18.5" lengthAdjust="spacingAndGlyphs" >&#8722;60</text>
<line x1="489.46" y1="566" x2="489.46" y2="569" stroke="#1a1a1a" stroke-width="1.2" />
<text x="489.46" y="579.4" font-size="10" text-anchor="middle" textLength="18.5" lengthAdjust="spacingAndGlyphs" >&#8722;40</text>
<line x1="524.99" y1="566" x2="524.99" y2="569" stroke="#1a1a1a" stroke-width="1.2" />
<text x="524.99" y="579.4" font-size="10" text-anchor="middle" textLength="18.5" lengthAdjust="spacingAndGlyphs" >&#8722;20</text>
<line x1="560.52" y1="566" x2="560.52" y2="569" stroke="#1a1a1a" stroke-width="1.2" />
<text x="560.52" y="579.4" font-size="10" text-anchor="middle" textLength="6.2" lengthAdjust="spacingAndGlyphs" >0</text>
<line x1="596.05" y1="566" x2="596.05" y2="569" stroke="#1a1a1a" stroke-width="1.2" />
<text x="596.05" y="579.4" font-size="10" text-anchor="middle" textLength="12.4" lengthAdjust="spacingAndGlyphs" >20</text>
<line x1="631.58" y1="566" x2="631.58" y2="569" stroke="#1a1a1a" stroke-width="1.2" />
<text x="631.58" y="579.4" font-size="10" text-anchor="middle" textLength="12.4" lengthAdjust="spacingAndGlyphs" >40</text>
<text x="503.6" y="596" font-size="12.6" textLength="42.8" lengthAdjust="spacingAndGlyphs">V<tspan font-size="9.2" dy="2.5">m</tspan><tspan dy="-2.5"> (mV)</tspan></text>
<text transform="translate(376.7 524.2) rotate(-90)" font-size="14.9">I<tspan font-size="10.5" dy="3.5">Ks</tspan><tspan dy="-3.5"> density (A/F)</tspan></text>
<line x1="642.3" y1="452.6" x2="642.3" y2="557.2" stroke="#111" stroke-width="1.4" />
<line x1="642.3" y1="452.6" x2="645.3" y2="452.6" stroke="#111" stroke-width="1.4" />
<text x="647.6" y="456.5" font-size="10" textLength="18" lengthAdjust="spacingAndGlyphs" >100</text>
<line x1="642.3" y1="478.7" x2="645.3" y2="478.7" stroke="#111" stroke-width="1.4" />
<text x="647.6" y="482.6" font-size="10" textLength="12" lengthAdjust="spacingAndGlyphs" >75</text>
<line x1="642.3" y1="504.9" x2="645.3" y2="504.9" stroke="#111" stroke-width="1.4" />
<text x="647.6" y="508.8" font-size="10" textLength="12" lengthAdjust="spacingAndGlyphs" >50</text>
<line x1="642.3" y1="531.1" x2="645.3" y2="531.1" stroke="#111" stroke-width="1.4" />
<text x="647.6" y="535" font-size="10" textLength="12" lengthAdjust="spacingAndGlyphs" >25</text>
<line x1="642.3" y1="557.2" x2="645.3" y2="557.2" stroke="#111" stroke-width="1.4" />
<text x="647.6" y="561.1" font-size="10" textLength="6" lengthAdjust="spacingAndGlyphs" >0</text>
<text transform="translate(678.2 565.9) rotate(-90)" font-size="14.7">I<tspan font-size="10.5" dy="3.5">Ks</tspan><tspan dy="-3.5"> (% of maximum)</tspan></text>
<path d="M418.6 555.78L418.52 557.14 419.3 555.45 419.69 554.2 420.01 553.54 420.35 552.7 420.73 551.53 421.14 550.23 421.56 549.11 422.01 548.28 422.47 547.18 422.94 545.97 423.42 544.16 423.9 543.26 424.38 541.9 424.86 540.79 425.32 539.56 425.77 537.77 426.2 536.79 426.59 535.9 426.97 534.31 427.36 533.46 427.75 532.29 428.14 530.91 428.53 529.52 428.91 528.81 429.3 527.63 429.69 526.55 430.08 524.91 430.47 523.51 430.86 522.96 431.25 521.7 431.64 520.46 432.03 519.48 432.42 518.23 432.81 516.84 433.2 516.17 433.64 514.53 434.08 513.51 434.51 512.13 434.95 510.81 435.39 509.97 435.83 508.97 436.27 507.84 436.71 506.66 437.14 505.4 437.58 503.81 438.02 502.69 438.46 501.47 438.89 500.74 439.33 499.43 439.77 498.57 440.2 497.7 440.65 496.29 441.09 494.93 441.54 494.04 441.99 492.15 442.43 491.67 442.87 490.12 443.32 488.65 443.76 487.95 444.2 486.55 444.65 485.27 445.09 484.59 445.54 482.99 445.98 482.34 446.43 481.27 446.88 479.82 447.4 478.7 447.99 477.77 448.57 476.45 449.15 475.12 449.72 474.25 450.3 473.23 450.89 472.48 451.49 471.48 452.11 470.39 452.74 469.41 453.41 468.41 454.1 466.99 454.75 466.41 455.43 465.4 456.14 463.79 456.87 463.05 457.62 462.24 458.38 460.55 459.14 460.08 459.89 458.63 460.64 457.97 461.37 456.94 462.08 456.22 462.76 454.94 463.4 454.6 464.39 453.52 465.35 452.35 466.26 451.14 467.14 450.63 467.98 449.7 468.79 448.71 469.56 447.77 470.3 447.28 471.32 446.2 472.15 445.44 472.94 444.98 473.85 444.21 475 443.06 475.7 442.99 476.47 441.99 477.29 441.32 478.16 439.9 479.06 439.37 479.97 437.94 480.9 437.25 481.82 436.67 482.72 435.3 483.6 434.73 484.62 434.01 485.67 432.87 486.72 432.54 487.77 431.38 488.81 430.75 489.82 430.48 490.81 429.12 491.75 429.03 492.63 427.68 493.45 427.04 494.2 426.01 494.92 425.26 495.63 424.27 496.34 423.01 497.07 421.58 497.85 420.62 498.7 419.54 499.37 418.79 500.07 418.11 500.79 417.27 501.54 416.03 502.29 414.61 503.06 414.27 503.84 413.12 504.61 412.36 505.39 411.26 506.16 410.47 506.92 409.19 507.73 408.13 508.59 407.47 509.45 406.12 510.31 405.87 511.16 404.69 512.02 403.78 512.88 403.33 513.74 402.47 514.6 401.36 515.47 400.41 516.38 400.17 517.37 398.81 518.37 397.9 519.38 397.23 520.39 396.47 521.38 395.92 522.35 395.67 523.28 394.48 524.17 393.77 525.13 392.85 526.12 391.99 527.05 391.74 527.94 390.59 528.8 389.97 529.66 389.07 530.55 387.73 531.5 387.29 532.53 386.27 533.58 385.36 534.62 384.52 535.64 384.12 536.6 383.55 537.5 382.91 538.71 381.92 539.73 381.5 540.78 380.94 542.1 380.76 543.08 380.39 544.15 379.59 545.3 379.22 546.5 378.88 547.75 379.17 549.04 378.91 550.29 378.63 551.54 378.37 552.87 378.27 554.23 377.9 555.58 378.01 556.89 377.75 558.11 377.67 559.2 377.9 560.69 378.48 561.89 378.29 563 378.96 564.2 379.01 565.38 379.89 566.4 380.43 567.47 380.81 568.58 380.92 569.71 382.27 570.84 382.45 571.95 383.74 572.88 384.5 573.64 385.44 574.4 386.05 575.16 386.71 575.93 388 576.69 388.44 577.45 389.83 578.21 390.86 578.97 391.46 579.72 392.96 580.37 393.85 580.92 394.78 581.49 396.07 582.05 397.03 582.63 398.44 583.2 399.31 583.77 400.67 584.33 401.78 584.88 402.84 585.42 404.03 585.95 405.25 586.45 406.39 586.93 407.46 587.38 408.49 587.89 409.84 588.45 410.44 588.96 411.67 589.44 412.73 589.9 414.16 590.32 415.69 590.72 416.21 591.11 417.33 591.47 418.18 591.83 419.45 592.22 420.62 592.61 421.6 592.96 423.32 593.26 424.48 593.56 425.47 593.85 427.14 594.16 427.73 594.5 429.15 594.98 430.23 595.48 431.79 596 432.32 596.52 433.79 597.02 434.77 597.5 435.55 597.95 436.88 598.37 438 598.79 439.51 599.19 440.58 599.59 441.36 600 443.1 600.41 443.92 600.82 445.44 601.23 446.56 601.63 447.86 602.02 448.37 602.4 450.04 602.73 451.27 603.04 452.55 603.35 453.57 603.65 454.32 603.95 455.56 604.25 457.58 604.55 458.56 604.86 459.48 605.17 461.14 605.48 461.91 605.78 463.41 606.09 464.77 606.4 466.1 606.66 467.13 606.93 468.15 607.19 469.25 607.45 470.47 607.71 471.56 607.98 472.73 608.26 473.75 608.49 475.45 608.66 476.57 608.84 477.57 609.03 478.67 609.21 479.65 609.4 481.01 609.58 482.28 609.77 483.57 609.96 484.95 610.15 485.83 610.33 487.77 610.52 488.77 610.7 489.67 610.88 491.09 611.06 492.39 611.23 493.37 611.41 494.57 611.58 495.99 611.76 496.92 611.93 498.11 612.1 499.69 612.28 500.89 612.46 501.92 612.63 503.52 612.81 504.6 613 505.92 613.21 506.45 613.43 507.77 613.65 509.21 613.87 510.79 614.09 511.8 614.31 512.97 614.52 514.4 614.73 515.51 614.93 516.88 615.11 517.63 615.32 519.22 615.56 520.11 615.79 521.7 616 522.44 616.2 523.8 616.38 524.73 616.55 526.03 616.7 526.92 616.83 528.1 616.94 529.81 617.05 530.97 617.14 531.72 617.22 533.66 617.29 534.59 617.35 535.62 617.39 537.21 617.41 538.03 617.43 539.65 617.43 541.24 617.43 541.9 617.41 543.53 617.36 544.8 617.3 546.43 617.21 546.93 617.1 547.86 616.95 548.86 616.59 550.48 616.12 550.91 615.54 551.82 614.87 553.39 614.13 554 613.29 555.07 612.38 556.34 611.4 556.72 610.47 558.32 609.39 559.14 608.29 559.58 607.28 560.79 606.48 561.66 606.2 561.94" fill="none" stroke="#000" stroke-width="1.7" stroke-linejoin="round" stroke-linecap="round" />
<path d="M417 557.72L417.76 556.57 418.42 555.88 419.16 554.73 419.93 553.66 420.7 552.86 421.48 551.75 422.25 550.35 423.02 549.67 423.79 548.18 424.53 547.38 425.26 546.4 425.98 545.36 426.69 544.02 427.4 543.52 428.09 542.1 428.78 541.18 429.46 540.32 430.13 539.3 430.79 537.72 431.43 537.05 432.05 535.69 432.67 534.81 433.28 533.8 433.88 532.22 434.46 531.31 435.05 530.35 435.63 529.22 436.2 528.1 436.78 527.3 437.36 525.67 437.94 524.93 438.52 523.57 439.11 522.82 439.71 521.84 440.32 520.63 440.94 519.3 441.59 518.81 442.25 517.34 442.94 516.87 443.65 515.83 444.4 514.77 445.17 513.94 445.97 512.93 446.79 511.71 447.64 510.6 448.5 510.19 449.38 509.13 450.27 507.98 451.17 507.49 452.08 506.29 453.01 505.34 453.94 504.82 454.9 503.99 455.86 502.93 456.85 502.15 457.86 501.88 458.88 500.85 459.94 499.91 461.01 499.62 462.09 499.18 463.18 498.63 464.29 497.67 465.39 497.46 466.5 496.53 467.61 496.16 468.73 495.78 469.84 495.27 470.96 495.07 472.08 494.57 473.2 494.51 474.31 493.7 475.41 493.65 476.5 493.15 477.6 492.69 478.69 491.89 479.78 491.51 480.87 490.87 481.97 490.37 483.07 489.96 484.18 489.68 485.29 489.29 486.41 488.79 487.52 488.27 488.64 488.05 489.74 487.52 490.83 486.55 491.91 486.54 492.96 485.98 493.98 484.97 495 484.55 496 483.82 497 483.1 497.99 482.27 498.99 481.64 500 480.74 501.02 480.15 502.05 479.69 503.09 478.79 504.13 478.32 505.19 477.44 506.25 477.1 507.33 476.2 508.4 475.23 509.48 475.1 510.56 474.07 511.64 473.89 512.72 473.16 513.8 472.29 514.88 472.1 515.96 471.13 517.04 470.91 518.12 469.93 519.21 469.49 520.29 468.92 521.38 468.66 522.48 467.95 523.58 467.48 524.7 467.09 525.84 466.61 526.98 466.2 528.13 465.63 529.28 465.17 530.43 464.62 531.57 464.41 532.71 463.45 533.85 463 534.99 463.05 536.14 462.52 537.29 462.27 538.45 461.42 539.62 461.07 540.79 461.24 541.98 460.51 543.18 460.09 544.4 459.98 545.62 460.07 546.86 459.81 548.11 459.27 549.36 459.34 550.6 459.24 551.84 459.27 553.07 459.13 554.29 459.15 555.5 459.15 556.72 459.15 557.92 459.3 559.12 459.68 560.32 459.43 561.5 460.15 562.67 460.28 563.82 460.46 564.96 460.97 566.1 461.59 567.22 461.94 568.34 462.35 569.44 462.99 570.52 463.55 571.59 464.22 572.63 465.09 573.65 465.63 574.65 466.53 575.64 467.39 576.61 467.85 577.56 468.57 578.51 469.4 579.45 470.36 580.38 471.09 581.3 471.79 582.2 472.92 583.1 473.41 583.99 474.12 584.86 475.1 585.72 475.99 586.56 477.18 587.39 477.69 588.21 478.89 589 479.55 589.77 481 590.52 481.65 591.25 482.45 591.96 483.75 592.65 484.67 593.31 485.47 593.96 486.76 594.58 487.59 595.2 488.64 595.8 489.49 596.4 490.86 596.99 491.67 597.57 492.49 598.15 493.64 598.72 494.8 599.29 495.85 599.85 497.03 600.41 498.14 600.96 499.24 601.51 500.13 602.05 501.04 602.59 502.65 603.13 503.65 603.65 504.92 604.17 505.87 604.68 506.93 605.18 508.12 605.67 508.86 606.16 510.17 606.64 511.09 607.11 512.43 607.57 513.31 608.02 514.56 608.47 515.7 608.91 516.83 609.35 518.31 609.79 519.36 610.23 520.36 610.66 521.4 611.09 522.8 611.52 524.04 611.94 525.17 612.35 526.58 612.75 527.41 613.13 528.81 613.51 530.07 613.87 531.31 614.21 532.41 614.54 533.46 614.86 534.64 615.15 535.95 615.43 537.1 615.68 538.28 615.91 539.64 616.11 540.75 616.28 541.85 616.41 543.13 616.5 544.27 616.53 545.83 616.49 546.43 616.36 547.62 616.13 549.3 615.79 550.16 615.32 551.12 614.72 552.06 614.01 553.5 613.19 554.23 612.3 555.09 611.37 556.34 610.38 557.19 609.36 558.09 608.35 558.69 607.43 559.39 607 559.51" fill="none" stroke="#ff0000" stroke-width="1.8" stroke-linejoin="round" stroke-linecap="round" />
<path d="M605 561.2L608 556L610.5 559.5Z" fill="#ff0000"/>
<path d="M419.3 564.37L419.33 562.73 419.34 560.7 419.34 560.57 419.33 562.5 419.32 561.2 419.32 561.14 419.32 558.53 419.33 560.29 419.35 558.1 419.38 559.72 419.43 556.14 419.49 558.58 419.58 554.11 419.68 554.6 419.82 556.1 419.98 554.82 420.17 554.76 420.4 554 420.62 551.17 420.86 554.33 421.13 552.45 421.42 550.97 421.73 549.72 422.07 551.28 422.41 548.95 422.78 547.86 423.15 548.64 423.54 548.75 423.94 547.08 424.34 545.57 424.75 546.15 425.15 546.66 425.56 544.69 425.97 543.36 426.37 543.12 426.77 544.75 427.16 542.7 427.54 542.35 427.91 539.78 428.26 543.07 428.6 541.38 429 542.27 429.39 538.37 429.79 539.73 430.18 539.35 430.56 538.19 430.95 537.83 431.33 537.61 431.71 537.03 432.08 538.74 432.45 536.74 432.82 536.97 433.18 534.97 433.53 534.23 433.87 534.78 434.21 535.49 434.55 534.6 434.87 534.5 435.19 534.24 435.5 531.24 435.78 531.58 436.06 529.92 436.33 530.61 436.58 531.79 436.83 531.38 437.07 529.19 437.31 529.58 437.54 528.03 437.77 527.98 437.99 528.16 438.21 525.17 438.43 523.53 438.65 524.12 438.87 523.31 439.08 523.96 439.3 523.86 439.52 522.42 439.74 521.89 439.97 521.45 440.2 522.69 440.66 522.05 441.13 518.72 441.59 520.01 442.05 517.49 442.51 517.85 442.96 519.8 443.42 515.65 443.88 516.97 444.34 514.84 444.8 515.35 445.15 515.98 445.51 514.08 445.86 516.03 446.21 513.07 446.56 512.94 446.92 514.78 447.27 512.47 447.62 513.67 447.98 510.05 448.33 511.35 448.69 509.35 449.04 511.39 449.4 508.16 449.67 510.66 449.93 508.7 450.2 507.4 450.45 508.55 450.71 504.66 450.96 506.94 451.22 506.09 451.48 505.37 451.74 503.29 452 502.32 452.27 504.46 452.55 500.57 452.84 503.4 453.14 503.51 453.45 501.68 453.77 501 454.1 498.59 454.47 497.51 454.86 498.24 455.26 500.31 455.67 496.35 456.09 499.12 456.52 498.16 456.96 496.77 457.41 496.89 457.86 497.02 458.31 494.66 458.76 493.68 459.22 494.25 459.67 492.79 460.12 493.47 460.56 492.18 461 490.38 461.44 490 461.89 491.18 462.34 492.66 462.8 490.91 463.26 489.99 463.72 488.45 464.18 490.81 464.64 489.04 465.1 489.52 465.55 488.05 465.99 487.46 466.42 486.74 466.83 486.13 467.24 485.58 467.63 487.37 468 484.76 468.43 486.74 468.82 485.83 469.18 484.01 469.51 482.13 469.83 484.39 470.15 482.92 470.45 480.67 470.77 480.04 471.09 479.34 471.42 480.95 471.78 479.91 472.17 480.74 472.6 478.85 473 476.49 473.43 478.12 473.87 478.91 474.34 478.39 474.81 476.68 475.3 478.04 475.8 476.79 476.3 474.43 476.8 475.54 477.3 474.98 477.79 473.19 478.26 474.41 478.73 474.31 479.17 472.98 479.6 474.69 480.27 472.56 480.91 473.8 481.53 469.69 482.13 471.66 482.71 472.13 483.28 470.78 483.85 473.16 484.42 473.29 485 471.8 485.57 473.45 486.13 474.3 486.67 474.96 487.21 475.47 487.75 473.43 488.31 472.5 488.88 476.09 489.47 474.92 490.1 475.03 490.49 475.1 490.9 473.1 491.31 473.36 491.74 472.18 492.17 473.64 492.6 473.89 493.05 470.88 493.49 471.61 493.94 469.26 494.39 470.08 494.84 467.13 495.28 468.68 495.73 467.1 496.17 467.15 496.6 466.01 497.14 466.39 497.67 464.62 498.2 466.07 498.74 464.32 499.27 466.39 499.8 463.26 500.33 463.48 500.86 464.36 501.4 463.31 501.93 461.9 502.46 460.74 503 462.54 503.59 461.98 504.18 462.14 504.77 462.15 505.36 461.27 505.95 462.2 506.54 463.93 507.13 463.15 507.72 463.04 508.32 462.22 508.91 462.3 509.5 459.79 510.1 459.83 510.71 461.57 511.33 461.89 511.96 460.95 512.58 458.11 513.19 461.48 513.8 459.87 514.39 459.92 514.95 460.41 515.49 456.64 516 456.83 516.71 458.62 517.33 458.67 517.89 458 518.43 455.4 518.98 457.57 519.59 457.91 520.3 457.44 520.76 457.66 521.24 458.31 521.75 458.54 522.27 458.61 522.81 457.82 523.36 459.83 523.92 460.29 524.48 460.37 525.04 463.23 525.6 460.55 526.16 461.04 526.7 460.94 527.29 464.26 527.88 463.74 528.47 463.59 529.06 463.58 529.65 461.33 530.24 464.53 530.83 464.01 531.42 464.42 532.02 465.15 532.61 462.72 533.2 462.31 533.8 464.54 534.4 461.27 535.01 462.08 535.61 463.01 536.22 464.31 536.83 464.11 537.42 460.55 538.01 460.42 538.59 460.95 539.15 459.89 539.7 459.57 540.34 460.62 540.95 461.24 541.54 461.36 542.11 461.67 542.68 461.05 543.24 464.14 543.81 465 544.4 462.76 545 465.01 545.49 463.09 545.96 463.9 546.41 466.31 546.86 467.44 547.32 464.12 547.8 465.42 548.3 467.18 548.84 468.47 549.43 468.14 550.08 466.58 550.8 466.71 551.21 469.6 551.63 467.14 552.08 469.79 552.55 470.36 553.03 469.34 553.52 471.78 554.03 470.45 554.55 472.34 555.08 468.99 555.62 469.48 556.17 470.12 556.72 470.67 557.27 472.71 557.82 471.24 558.38 471.21 558.93 471.89 559.48 472.04 560.02 473.91 560.55 476.1 561.08 474.06 561.6 475.86 562.09 473.52 562.58 475.5 563.06 475.35 563.55 476.04 564.04 476.02 564.52 475.16 565.01 476.83 565.49 477.97 565.98 478.22 566.46 479.78 566.95 477.41 567.44 478.78 567.92 477.35 568.41 478.14 568.89 481.37 569.38 478.45 569.86 480.57 570.35 482.66 570.84 482.53 571.32 481.56 571.81 480.82 572.3 482.1 572.77 481.99 573.24 483.44 573.7 481.99 574.17 483.28 574.64 482.96 575.11 483.72 575.58 483.4 576.05 484.29 576.52 486.62 576.99 484.27 577.46 486.64 577.93 488.46 578.4 488.89 578.87 488.21 579.34 488.19 579.81 489.13 580.28 487.99 580.75 490.09 581.22 491.41 581.69 492.79 582.16 493.2 582.63 491.63 583.1 492.35 583.57 492.98 584.05 490.78 584.52 493.85 585.01 494.12 585.49 493.89 585.97 494.79 586.46 494 586.94 495.47 587.43 493.05 587.91 495.36 588.4 497.44 588.88 495.2 589.36 496.47 589.83 497.14 590.31 498.01 590.78 497.86 591.24 499.74 591.7 500.62 592.15 499.76 592.6 499.93 593.04 500.3 593.47 498.06 593.9 498.73 594.32 499.4 594.73 501.95 595.15 500.68 595.55 500.62 595.95 503.9 596.35 505.25 596.75 505.22 597.14 503.48 597.52 504.46 597.9 503.9 598.28 505.64 598.65 504.47 599.02 507.72 599.39 508.43 599.75 509.29 600.11 507.39 600.46 508 600.81 508.81 601.16 507.45 601.5 508.32 601.84 508.89 602.17 511.05 602.5 512.3 602.94 513.79 603.37 510.79 603.79 512.21 604.2 512.36 604.6 514.82 604.99 515.4 605.38 516.03 605.76 516.46 606.14 515.19 606.51 516.5 606.87 517.18 607.23 515.23 607.59 519.23 607.95 517.58 608.3 518.28 608.65 521.18 609 518.19 609.43 521.72 609.86 521.42 610.29 521.55 610.72 521.33 611.14 520.58 611.56 521.04 611.97 521.99 612.37 522.72 612.75 524.59 613.12 522.23 613.47 523.33 613.81 524.35 614.12 526.68 614.4 525.97 614.66 525.66 614.89 527.02 615.11 525.96 615.3 529.56 615.48 530.07 615.64 529.17 615.79 529.83 615.92 528.96 616.05 531.67 616.17 533.31 616.28 533 616.39 531.79 616.49 533.19 616.6 534.72 616.72 535.24 616.83 535.38 616.93 537.48 617.03 536.36 617.11 539.51 617.18 539.39 617.24 537.25 617.3 538.24 617.34 542.09 617.37 540.66 617.39 543 617.4 544.55 617.4 543.45 617.39 545.41 617.36 542.92 617.33 545.48 617.3 545.78 617.26 547.16 617.21 546.61 617.16 548.24 617.1 549.56 617.05 548.42 616.99 548.5 616.94 550.25 616.88 550.63 616.83 551.52 616.78 551.05 616.74 550.68 616.7 553.32 616.67 551.08 616.64 551.55 616.61 555.28 616.58 554.08 616.55 553.88 616.52 556.53 616.49 555.06 616.46 558.06 616.43 558.97 616.41 557.3 616.38 557.72 616.35 558.52 616.33 560.88 616.31 560.45 616.29 560.76 616.26 560.29 616.25 564.36 616.23 563.21 616.21 564.53 616.2 565.25" fill="none" stroke="#0000ff" stroke-width="2.1" stroke-linejoin="round" stroke-linecap="round" />
<line x1="505.6" y1="505.6" x2="501.6" y2="489.5" stroke="#ff0000" stroke-width="0.9" />
<path d="M500.9 485.6L499.3 491.4L503.7 490.4Z" fill="#ff0000"/>
<text x="521.6" y="374" font-size="10.2" font-weight="bold" textLength="26.8" lengthAdjust="spacingAndGlyphs" >CTRL</text>
<text x="499.8" y="447.6" font-size="10" font-weight="bold" fill="#0000ff" style="stroke:#0000ff" textLength="24.3" lengthAdjust="spacingAndGlyphs" >NISO</text>
<text x="471" y="517.4" font-size="10.2" font-weight="bold" fill="#ff0000" style="stroke:#ff0000" textLength="84.6" lengthAdjust="spacingAndGlyphs" >normalized CTRL</text>
</svg>
</body></html>
